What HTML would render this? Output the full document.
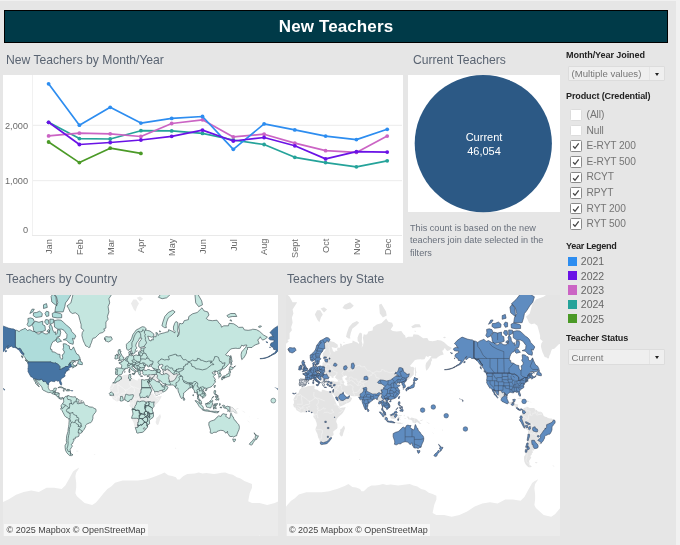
<!DOCTYPE html>
<html><head><meta charset="utf-8"><title>New Teachers</title>
<style>
html,body{margin:0;padding:0}
body{width:680px;height:545px;overflow:hidden;background:#f1f1f1;font-family:"Liberation Sans",sans-serif;position:relative}
#bg{position:absolute;left:0;top:1px;width:676px;height:544px;background:#e6e6e6}
.abs{position:absolute}
#hdr{position:absolute;left:4px;top:10px;width:662px;height:31px;background:#003a48;border:1px solid #000;box-sizing:content-box}
#hdr div{position:absolute;left:0;right:0;top:5.5px;text-align:center;color:#fff;font-weight:bold;font-size:17px;line-height:20px;letter-spacing:0.12px}
.ttl{position:absolute;color:#5a6472;font-size:12.15px;line-height:16px;white-space:nowrap}
.panel{position:absolute;background:#fff;overflow:hidden}
.ax{position:absolute;color:#6b6b6b;font-size:9.2px;line-height:10px;text-align:right;width:24px;left:4px}
.mon{position:absolute;top:238.5px;width:11px;height:24px;writing-mode:vertical-rl;transform:rotate(180deg);color:#6b6b6b;font-size:9.2px;line-height:11px;text-align:right;white-space:nowrap}
.sh{position:absolute;left:566px;color:#222;font-weight:bold;font-size:9.05px;line-height:12px;white-space:nowrap}
.dd{position:absolute;left:567.5px;width:97px;height:14.5px;background:#efefef;border:1px solid #dcdcdc;box-sizing:border-box;border-radius:1px}
.dd span{position:absolute;left:3px;top:1px;font-size:9.6px;line-height:12px;color:#777;white-space:nowrap}
.dd i{position:absolute;right:5px;top:5.5px;width:0;height:0;border-left:2.6px solid transparent;border-right:2.6px solid transparent;border-top:3.2px solid #222}
.dd b{position:absolute;right:14px;top:0;bottom:0;width:1px;background:#e4e4e4}
.cb{position:absolute;left:570.3px;width:12.2px;height:11.8px;background:#fff;border:0.6px solid #dcdcdc;box-sizing:border-box;border-radius:1.5px}
.cb.on{border-color:#8a8a8a}
.cb svg{position:absolute;left:-1px;top:-1px}
.cbl{position:absolute;left:586.6px;font-size:10.2px;line-height:14px;color:#757575;white-space:nowrap;letter-spacing:-0.1px}
.sw{position:absolute;left:567.8px;width:9.2px;height:9.2px}
.lgl{position:absolute;left:580.8px;font-size:10.5px;line-height:14px;color:#666;white-space:nowrap}
.note{position:absolute;left:410px;top:222px;width:145px;font-size:9.15px;line-height:12.3px;color:#69707c}
.attr{position:absolute;left:1px;bottom:0;height:12px;padding:0 2.2px;background:rgba(255,255,255,.62);font-size:9px;line-height:12.5px;color:#444;white-space:nowrap}
</style></head><body>
<div id="bg"></div>
<div id="hdr"><div>New Teachers</div></div>
<div class="ttl" style="left:6px;top:51.5px">New Teachers by Month/Year</div>
<div class="ttl" style="left:413px;top:51.5px">Current Teachers</div>
<div class="ttl" style="left:6px;top:271px">Teachers by Country</div>
<div class="ttl" style="left:287px;top:271px">Teachers by State</div>

<div class="panel" style="left:3px;top:74.5px;width:399.5px;height:188px"></div>
<svg class="abs" style="left:0;top:0" width="680" height="270" viewBox="0 0 680 270"><line x1="32" x2="402" y1="125.3" y2="125.3" stroke="#ececec" stroke-width="1"/><line x1="32" x2="402" y1="180.7" y2="180.7" stroke="#ececec" stroke-width="1"/><line x1="32.5" x2="32.5" y1="75" y2="235.5" stroke="#f1f1f1" stroke-width="1"/><line x1="32" x2="402" y1="235.5" y2="235.5" stroke="#e9e9e9" stroke-width="1"/><polyline points="48.6,142.0 79.4,162.6 110.2,148.2 140.9,153.4" fill="none" stroke="#4b9a27" stroke-width="1.7" stroke-linejoin="round" stroke-linecap="round"/><circle cx="48.6" cy="142.0" r="1.9" fill="#4b9a27"/><circle cx="79.4" cy="162.6" r="1.9" fill="#4b9a27"/><circle cx="110.2" cy="148.2" r="1.9" fill="#4b9a27"/><circle cx="140.9" cy="153.4" r="1.9" fill="#4b9a27"/><polyline points="48.6,122.3 79.4,138.6 110.2,139.0 140.9,130.7 171.7,130.9 202.5,133.4 233.3,140.0 264.1,144.5 294.8,157.3 325.6,162.6 356.4,166.8 387.2,160.8" fill="none" stroke="#25a39a" stroke-width="1.7" stroke-linejoin="round" stroke-linecap="round"/><circle cx="48.6" cy="122.3" r="1.9" fill="#25a39a"/><circle cx="79.4" cy="138.6" r="1.9" fill="#25a39a"/><circle cx="110.2" cy="139.0" r="1.9" fill="#25a39a"/><circle cx="140.9" cy="130.7" r="1.9" fill="#25a39a"/><circle cx="171.7" cy="130.9" r="1.9" fill="#25a39a"/><circle cx="202.5" cy="133.4" r="1.9" fill="#25a39a"/><circle cx="233.3" cy="140.0" r="1.9" fill="#25a39a"/><circle cx="264.1" cy="144.5" r="1.9" fill="#25a39a"/><circle cx="294.8" cy="157.3" r="1.9" fill="#25a39a"/><circle cx="325.6" cy="162.6" r="1.9" fill="#25a39a"/><circle cx="356.4" cy="166.8" r="1.9" fill="#25a39a"/><circle cx="387.2" cy="160.8" r="1.9" fill="#25a39a"/><polyline points="48.6,135.9 79.4,133.2 110.2,133.8 140.9,136.5 171.7,123.5 202.5,119.8 233.3,136.9 264.1,134.2 294.8,143.1 325.6,150.7 356.4,152.4 387.2,136.1" fill="none" stroke="#cb64c4" stroke-width="1.7" stroke-linejoin="round" stroke-linecap="round"/><circle cx="48.6" cy="135.9" r="1.9" fill="#cb64c4"/><circle cx="79.4" cy="133.2" r="1.9" fill="#cb64c4"/><circle cx="110.2" cy="133.8" r="1.9" fill="#cb64c4"/><circle cx="140.9" cy="136.5" r="1.9" fill="#cb64c4"/><circle cx="171.7" cy="123.5" r="1.9" fill="#cb64c4"/><circle cx="202.5" cy="119.8" r="1.9" fill="#cb64c4"/><circle cx="233.3" cy="136.9" r="1.9" fill="#cb64c4"/><circle cx="264.1" cy="134.2" r="1.9" fill="#cb64c4"/><circle cx="294.8" cy="143.1" r="1.9" fill="#cb64c4"/><circle cx="325.6" cy="150.7" r="1.9" fill="#cb64c4"/><circle cx="356.4" cy="152.4" r="1.9" fill="#cb64c4"/><circle cx="387.2" cy="136.1" r="1.9" fill="#cb64c4"/><polyline points="48.6,83.8 79.4,125.2 110.2,107.3 140.9,123.1 171.7,118.4 202.5,116.5 233.3,149.3 264.1,123.9 294.8,129.9 325.6,136.1 356.4,139.6 387.2,129.3" fill="none" stroke="#2d8df0" stroke-width="1.7" stroke-linejoin="round" stroke-linecap="round"/><circle cx="48.6" cy="83.8" r="1.9" fill="#2d8df0"/><circle cx="79.4" cy="125.2" r="1.9" fill="#2d8df0"/><circle cx="110.2" cy="107.3" r="1.9" fill="#2d8df0"/><circle cx="140.9" cy="123.1" r="1.9" fill="#2d8df0"/><circle cx="171.7" cy="118.4" r="1.9" fill="#2d8df0"/><circle cx="202.5" cy="116.5" r="1.9" fill="#2d8df0"/><circle cx="233.3" cy="149.3" r="1.9" fill="#2d8df0"/><circle cx="264.1" cy="123.9" r="1.9" fill="#2d8df0"/><circle cx="294.8" cy="129.9" r="1.9" fill="#2d8df0"/><circle cx="325.6" cy="136.1" r="1.9" fill="#2d8df0"/><circle cx="356.4" cy="139.6" r="1.9" fill="#2d8df0"/><circle cx="387.2" cy="129.3" r="1.9" fill="#2d8df0"/><polyline points="48.6,122.3 79.4,144.5 110.2,142.5 140.9,140.0 171.7,136.3 202.5,130.1 233.3,141.0 264.1,137.5 294.8,145.8 325.6,158.9 356.4,151.7 387.2,152.1" fill="none" stroke="#6a12e6" stroke-width="1.7" stroke-linejoin="round" stroke-linecap="round"/><circle cx="48.6" cy="122.3" r="1.9" fill="#6a12e6"/><circle cx="79.4" cy="144.5" r="1.9" fill="#6a12e6"/><circle cx="110.2" cy="142.5" r="1.9" fill="#6a12e6"/><circle cx="140.9" cy="140.0" r="1.9" fill="#6a12e6"/><circle cx="171.7" cy="136.3" r="1.9" fill="#6a12e6"/><circle cx="202.5" cy="130.1" r="1.9" fill="#6a12e6"/><circle cx="233.3" cy="141.0" r="1.9" fill="#6a12e6"/><circle cx="264.1" cy="137.5" r="1.9" fill="#6a12e6"/><circle cx="294.8" cy="145.8" r="1.9" fill="#6a12e6"/><circle cx="325.6" cy="158.9" r="1.9" fill="#6a12e6"/><circle cx="356.4" cy="151.7" r="1.9" fill="#6a12e6"/><circle cx="387.2" cy="152.1" r="1.9" fill="#6a12e6"/></svg>
<div class="ax" style="top:120.5px">2,000</div>
<div class="ax" style="top:176px">1,000</div>
<div class="ax" style="top:224.5px">0</div>
<div class="mon" style="left:43.9px">Jan</div><div class="mon" style="left:74.7px">Feb</div><div class="mon" style="left:105.5px">Mar</div><div class="mon" style="left:136.2px">Apr</div><div class="mon" style="left:167.0px">May</div><div class="mon" style="left:197.8px">Jun</div><div class="mon" style="left:228.6px">Jul</div><div class="mon" style="left:259.4px">Aug</div><div class="mon" style="left:290.1px">Sept</div><div class="mon" style="left:320.9px">Oct</div><div class="mon" style="left:351.7px">Nov</div><div class="mon" style="left:382.5px">Dec</div>

<div class="panel" style="left:407.5px;top:75px;width:152.3px;height:137.3px"></div>
<svg class="abs" style="left:400px;top:70px" width="170" height="150" viewBox="400 70 170 150"><circle cx="483.3" cy="143.6" r="68.6" fill="#2c5985"/>
<text x="484" y="140.8" text-anchor="middle" font-family="Liberation Sans, sans-serif" font-size="11" fill="#fff">Current</text>
<text x="484" y="155" text-anchor="middle" font-family="Liberation Sans, sans-serif" font-size="11" fill="#fff">46,054</text></svg>
<div class="note">This count is based on the new teachers join date selected in the filters</div>

<div class="sh" style="top:48.7px;letter-spacing:-0.09px">Month/Year Joined</div>
<div class="dd" style="top:66px;height:15px"><span>(Multiple values)</span><b></b><i></i></div>
<div class="sh" style="top:90px;letter-spacing:-0.13px">Product (Credential)</div>
<div class="cb" style="top:109.1px"></div><div class="cbl" style="top:107.9px">(All)</div><div class="cb" style="top:124.7px"></div><div class="cbl" style="top:123.5px">Null</div><div class="cb on" style="top:140.3px"><svg width="12" height="12" viewBox="0 0 12 12"><path d="M3.1 6.3 L5 8.3 L8.7 3.4" fill="none" stroke="#444" stroke-width="1.25"/></svg></div><div class="cbl" style="top:139.1px">E-RYT 200</div><div class="cb on" style="top:155.9px"><svg width="12" height="12" viewBox="0 0 12 12"><path d="M3.1 6.3 L5 8.3 L8.7 3.4" fill="none" stroke="#444" stroke-width="1.25"/></svg></div><div class="cbl" style="top:154.7px">E-RYT 500</div><div class="cb on" style="top:171.5px"><svg width="12" height="12" viewBox="0 0 12 12"><path d="M3.1 6.3 L5 8.3 L8.7 3.4" fill="none" stroke="#444" stroke-width="1.25"/></svg></div><div class="cbl" style="top:170.3px">RCYT</div><div class="cb on" style="top:187.1px"><svg width="12" height="12" viewBox="0 0 12 12"><path d="M3.1 6.3 L5 8.3 L8.7 3.4" fill="none" stroke="#444" stroke-width="1.25"/></svg></div><div class="cbl" style="top:185.9px">RPYT</div><div class="cb on" style="top:202.7px"><svg width="12" height="12" viewBox="0 0 12 12"><path d="M3.1 6.3 L5 8.3 L8.7 3.4" fill="none" stroke="#444" stroke-width="1.25"/></svg></div><div class="cbl" style="top:201.5px">RYT 200</div><div class="cb on" style="top:218.3px"><svg width="12" height="12" viewBox="0 0 12 12"><path d="M3.1 6.3 L5 8.3 L8.7 3.4" fill="none" stroke="#444" stroke-width="1.25"/></svg></div><div class="cbl" style="top:217.1px">RYT 500</div>
<div class="sh" style="top:240px;letter-spacing:-0.3px">Year Legend</div>
<div class="sw" style="top:256.8px;background:#2d8df0"></div><div class="lgl" style="top:254.4px">2021</div><div class="sw" style="top:271.1px;background:#6a12e6"></div><div class="lgl" style="top:268.7px">2022</div><div class="sw" style="top:285.4px;background:#cb64c4"></div><div class="lgl" style="top:283.0px">2023</div><div class="sw" style="top:299.7px;background:#25a39a"></div><div class="lgl" style="top:297.3px">2024</div><div class="sw" style="top:314.0px;background:#4b9a27"></div><div class="lgl" style="top:311.6px">2025</div>
<div class="sh" style="top:331.7px;letter-spacing:-0.15px">Teacher Status</div>
<div class="dd" style="top:349px;height:16px"><span style="top:1.8px">Current</span><b></b><i style="top:6.2px"></i></div>

<div class="panel" style="left:3.4px;top:294.5px;width:274.9px;height:241.8px;background:#fff"><svg style="position:absolute;left:0;top:0" width="274.9" height="241.8" viewBox="3.4 294.5 274.9 241.8"><path d="M-14.0,502.6L-6.4,504.5L1.2,502.6L8.8,499.1L16.5,494.3L24.1,491.4L31.7,490.0L39.3,491.4L46.9,487.3L54.5,487.3L62.1,488.6L65.9,484.7L69.7,477.9L72.0,473.8L73.5,471.0L75.8,469.2L79.6,467.1L78.5,469.2L76.6,471.9L75.8,475.8L76.6,482.3L76.6,487.3L75.8,492.8L77.3,495.8L85.0,502.6L92.6,504.5L96.4,501.9L100.2,497.4L104.0,492.8L107.8,488.6L111.6,486.0L115.4,482.3L123.0,480.1L130.6,480.1L138.2,480.1L145.8,479.0L149.6,477.9L153.4,476.8L157.2,475.2L161.1,473.8L164.9,471.9L168.7,474.8L172.5,475.4L176.3,476.8L177.8,479.0L180.1,479.0L182.4,476.8L183.9,475.4L187.7,473.4L191.5,473.2L195.3,472.9L199.1,471.9L202.9,472.9L206.7,472.5L210.5,472.9L214.3,473.4L218.1,472.9L221.9,472.3L225.7,471.9L229.5,473.4L233.3,474.2L237.2,476.8L241.0,477.9L244.8,480.5L248.6,481.9L252.4,483.5L252.4,487.3L250.1,492.8L248.6,500.8L252.4,502.6L260.0,502.6L260.0,611.1L-14.0,611.1ZM260.0,502.6L267.6,504.5L275.2,502.6L282.8,499.1L290.4,494.3L298.0,491.4L305.6,490.0L313.2,491.4L320.9,487.3L328.5,487.3L336.1,488.6L339.9,484.7L343.7,477.9L346.0,473.8L347.5,471.0L349.8,469.2L353.6,467.1L352.4,469.2L350.5,471.9L349.8,475.8L350.5,482.3L350.5,487.3L349.8,492.8L351.3,495.8L358.9,502.6L366.5,504.5L370.3,501.9L374.1,497.4L377.9,492.8L381.7,488.6L385.5,486.0L389.4,482.3L397.0,480.1L404.6,480.1L412.2,480.1L419.8,479.0L423.6,477.9L427.4,476.8L431.2,475.2L435.0,473.8L438.8,471.9L442.6,474.8L446.4,475.4L450.2,476.8L451.8,479.0L454.0,479.0L456.3,476.8L457.8,475.4L461.6,473.4L465.4,473.2L469.3,472.9L473.1,471.9L476.9,472.9L480.7,472.5L484.5,472.9L488.3,473.4L492.1,472.9L495.9,472.3L499.7,471.9L503.5,473.4L507.3,474.2L511.1,476.8L514.9,477.9L518.7,480.5L522.5,481.9L526.3,483.5L526.3,487.3L524.0,492.8L522.5,500.8L526.3,502.6L533.9,502.6L533.9,611.1L260.0,611.1Z" fill="#ebebeb"/><path d="M33.9,378.2L34.5,379.7L35.3,381.1L36.1,382.2L35.5,382.4L36.6,383.3L37.6,384.7L39.1,386.0L39.4,386.5L39.7,386.0L38.9,385.2L38.1,383.5L37.2,382.2L36.4,380.6L35.7,379.6L35.6,378.9L37.0,379.4L37.5,380.9L38.7,382.3L39.8,383.9L40.8,384.7L42.0,386.2L42.7,387.6L42.7,388.6L43.6,389.7L45.4,390.5L46.9,391.3L48.8,392.1L50.7,392.0L51.8,392.5L52.8,393.2L54.1,393.7L55.7,394.3L56.4,394.4L56.6,395.0L57.6,395.8L57.8,396.4L58.3,396.9L59.3,397.7L60.0,398.2L61.0,398.7L61.9,398.8L62.1,398.1L62.7,397.6L63.5,398.1L63.7,398.8L64.1,397.8L63.3,397.1L62.3,397.1L61.4,397.7L60.4,397.4L59.6,396.5L59.3,395.7L59.5,394.4L59.7,392.9L58.7,392.2L57.6,392.1L56.0,392.2L55.4,392.1L55.9,390.9L56.2,390.1L56.6,388.9L56.9,387.8L56.0,387.6L54.3,387.9L54.0,389.1L53.4,390.1L52.2,390.2L50.9,390.3L50.1,389.8L49.7,389.3L49.0,388.0L48.6,386.8L48.7,385.2L49.0,383.9L47.6,383.6L47.3,382.6L46.7,381.9L46.1,381.0L45.1,380.6L44.5,381.3L43.5,380.8L43.2,379.9L42.0,378.9L40.7,378.9L40.7,379.3L38.5,379.3L35.6,378.2ZM67.4,305.4L71.3,302.4L73.5,293.6L77.3,288.4L85.0,285.6L92.6,280.0L100.2,279.3L106.3,285.6L109.3,291.1L113.9,291.1L109.3,298.2L110.1,302.4L108.5,306.2L109.3,311.4L107.8,316.0L108.5,318.8L106.3,321.5L106.3,324.1L106.3,327.6L104.0,328.7L105.5,329.8L103.2,332.0L100.2,332.8L97.9,335.0L95.6,337.3L93.3,337.8L92.6,339.6L91.8,342.2L90.7,344.6L90.3,346.7L89.1,347.1L88.0,346.1L86.1,345.4L85.0,343.0L83.8,340.5L83.0,337.8L82.3,335.0L82.7,332.0L84.2,329.8L81.5,327.6L81.5,324.1L80.4,320.2L78.9,314.5L75.8,312.3L72.8,313.0L70.5,311.4L69.0,308.0ZM104.4,337.8L106.3,336.1L109.3,336.5L111.6,336.3L112.7,338.7L111.6,340.0L108.9,341.5L107.0,340.8L105.7,340.5L106.3,339.1L104.7,338.9L105.9,338.2ZM118.7,360.2L120.3,360.0L122.2,359.5L124.0,359.0L124.3,357.0L123.2,356.7L123.0,355.8L122.1,354.6L121.5,353.0L120.7,352.7L121.5,350.5L120.0,350.5L120.7,349.1L119.2,349.1L118.4,350.6L118.8,352.7L119.2,354.1L120.3,354.2L120.7,356.0L119.6,356.3L119.8,357.5L119.0,358.2L120.7,358.6L119.6,359.1ZM115.4,358.4L116.9,358.4L118.3,357.7L118.4,356.0L118.8,354.7L118.1,353.8L116.8,353.8L116.5,355.0L115.4,355.1L115.8,356.4L115.2,357.7ZM116.2,374.1L115.8,372.4L116.3,370.1L115.9,368.1L116.9,367.4L119.2,367.6L121.5,367.7L122.0,366.5L122.1,364.9L121.3,363.6L119.4,362.7L119.5,362.0L121.8,361.9L121.6,360.7L123.2,360.8L124.2,359.7L124.9,359.0L125.8,358.3L126.6,356.7L127.9,356.0L129.5,355.6L129.5,353.4L129.2,351.4L131.0,350.4L131.0,352.7L130.5,354.1L131.4,355.4L133.3,354.9L133.9,355.5L135.6,354.7L137.1,354.5L138.1,354.9L139.0,354.1L139.0,351.4L140.1,350.4L140.9,351.4L141.6,349.5L140.9,348.2L142.8,347.6L144.3,347.6L146.0,347.1L144.7,346.1L142.8,346.4L140.5,347.1L139.2,346.1L139.2,343.8L139.4,341.9L141.6,339.1L142.3,337.8L139.9,337.4L139.2,339.6L137.1,342.2L136.2,344.6L136.3,346.2L137.5,347.3L135.9,348.9L135.6,351.4L135.2,352.5L133.9,353.4L132.9,353.5L132.5,352.0L131.6,349.2L131.1,348.0L129.8,349.2L128.3,349.9L127.2,348.6L126.8,346.2L126.8,343.8L128.3,342.2L130.6,340.5L132.1,337.8L133.3,334.0L134.8,332.0L136.7,329.4L139.0,328.3L142.6,326.2L144.7,326.5L146.6,328.1L145.8,329.4L148.1,330.0L150.4,330.5L154.2,333.4L154.2,335.9L151.9,336.7L149.6,335.9L148.1,335.6L149.3,338.7L149.5,339.8L151.5,340.5L151.9,339.1L153.8,339.4L153.4,337.3L155.0,336.1L156.5,336.3L156.7,334.0L156.3,332.0L158.0,332.6L158.4,335.0L159.9,333.6L163.3,332.6L164.5,332.4L166.4,331.7L168.7,331.3L169.0,329.2L171.7,330.3L174.0,331.3L175.0,332.6L175.5,331.1L174.0,329.6L173.8,326.5L175.1,322.8L176.3,321.0L178.2,322.0L178.4,326.5L178.0,329.8L178.9,333.0L177.8,336.3L179.3,334.0L179.9,330.9L179.2,326.5L180.1,322.8L182.0,323.3L183.5,322.8L184.6,320.2L188.8,319.1L189.2,316.0L193.0,313.3L197.6,312.0L202.4,307.3L204.4,310.4L208.2,311.4L209.4,314.5L206.7,318.0L209.0,319.7L212.8,320.2L217.4,319.7L219.6,322.8L221.2,324.1L221.9,326.7L224.2,325.3L228.8,325.3L229.5,322.8L234.1,323.3L237.2,325.3L239.1,326.9L243.2,326.7L244.8,329.4L248.6,329.8L252.4,329.2L253.1,328.7L256.9,329.2L260.0,330.9L263.8,334.4L267.8,336.7L265.3,338.7L263.0,339.6L261.5,337.8L260.7,336.3L259.2,338.7L258.1,339.3L259.6,343.0L256.2,344.2L253.9,345.4L252.4,347.0L249.3,347.0L247.4,347.1L248.2,348.5L247.0,350.2L246.9,352.5L246.1,354.1L244.8,356.4L243.6,357.9L242.2,359.1L241.7,356.7L241.5,354.1L242.1,351.4L244.0,349.2L245.9,347.0L247.4,344.6L244.8,344.6L244.4,345.7L242.1,344.6L240.6,347.7L237.9,348.0L236.4,347.7L233.3,348.0L231.1,348.5L228.4,351.4L226.0,354.3L227.6,355.4L229.2,355.1L230.5,356.7L229.9,358.5L229.8,360.3L229.9,362.7L228.4,364.3L226.5,366.5L224.2,368.3L222.7,368.5L222.3,368.8L221.7,370.1L220.0,371.3L220.7,372.6L221.5,374.1L221.4,375.5L220.8,376.1L219.3,376.5L219.2,375.0L219.5,374.1L218.1,373.3L218.3,371.6L217.6,371.1L215.8,370.6L215.2,372.3L215.7,370.2L213.9,371.3L212.6,372.1L213.5,373.6L214.9,373.3L216.3,373.8L214.7,374.9L213.8,375.9L214.7,377.3L215.7,378.9L215.7,379.7L214.7,380.2L215.8,380.6L215.5,382.0L214.3,383.3L213.6,384.5L212.4,385.7L211.3,386.5L209.9,387.0L208.6,387.4L207.1,387.9L206.9,388.6L206.5,387.6L205.3,387.6L204.2,388.2L203.5,389.7L204.0,390.9L205.4,392.1L206.2,394.0L206.1,395.4L204.8,396.4L204.2,397.1L202.9,397.8L202.9,396.8L201.8,396.3L201.0,395.2L199.9,394.7L199.5,394.0L199.1,394.8L198.7,396.1L199.3,397.9L199.9,399.1L201.0,399.8L201.8,401.0L201.8,402.5L202.3,403.3L201.7,403.3L200.2,402.3L199.5,401.4L199.3,399.8L198.3,398.4L197.8,398.3L198.0,396.8L198.1,395.2L197.4,393.2L197.3,391.7L196.4,391.7L195.6,392.2L194.8,392.1L194.9,390.5L194.2,389.0L193.2,388.2L192.9,387.0L191.9,386.8L190.7,387.4L189.2,387.6L189.1,388.5L187.7,389.3L186.2,390.9L185.0,391.8L184.0,392.5L184.0,394.3L183.7,395.6L183.7,396.5L183.1,397.3L182.5,397.7L182.0,398.2L181.1,396.9L180.3,395.2L179.7,393.2L178.9,391.7L178.4,389.7L178.4,388.0L178.0,387.4L177.0,388.2L175.7,387.1L176.5,386.5L175.1,386.0L174.2,385.0L173.6,384.4L171.7,384.5L169.8,384.6L167.9,384.4L166.5,383.9L166.0,383.0L164.5,383.4L163.0,382.6L161.8,381.5L161.1,380.3L160.1,380.2L159.5,380.6L159.9,381.8L161.1,383.3L161.3,384.3L162.2,383.8L162.3,384.9L162.4,385.4L164.1,385.4L165.7,383.8L166.0,385.2L167.5,385.9L168.5,386.8L167.5,388.5L166.8,389.7L164.9,391.0L162.6,391.9L160.3,393.4L157.4,394.6L156.1,394.7L155.6,393.0L155.4,391.7L154.2,389.8L152.8,387.8L151.9,385.6L150.8,383.9L149.6,382.2L149.6,380.9L149.0,382.4L148.3,381.7L147.8,380.4L147.6,379.4L149.0,379.3L149.6,378.0L150.2,376.4L150.4,375.0L150.5,374.3L149.3,374.3L148.1,374.9L146.6,374.2L145.1,374.7L143.9,374.1L143.0,372.8L143.4,371.6L142.9,371.1L142.8,370.4L142.0,370.2L141.3,370.6L140.5,370.8L140.3,371.6L140.9,372.6L141.3,373.1L140.5,373.6L140.7,374.5L140.1,374.5L139.5,374.2L139.1,373.3L139.0,372.6L138.6,371.8L137.8,370.8L137.8,369.4L137.1,368.6L135.9,367.9L134.8,367.0L134.0,365.8L133.4,366.0L133.3,365.3L132.4,365.6L132.4,366.7L133.3,367.6L134.4,369.1L135.2,369.3L137.1,370.9L135.9,370.7L135.6,371.6L136.0,372.1L135.2,373.1L134.9,373.1L135.2,372.1L134.8,371.0L133.9,370.3L132.5,369.6L131.4,368.6L130.8,367.6L130.2,366.7L129.5,366.7L128.7,367.2L127.6,368.0L126.4,367.7L125.4,368.1L125.4,369.2L124.5,369.8L123.4,370.6L122.8,371.6L123.0,372.4L122.4,373.4L121.5,374.2L119.6,374.3L118.8,375.0L118.2,374.2L117.3,373.9ZM64.1,397.8L65.5,396.1L66.1,395.9L67.4,395.7L68.4,394.9L69.7,395.5L71.0,396.1L72.8,396.3L74.1,396.4L75.8,396.2L76.0,396.9L76.7,397.9L78.1,398.3L79.2,399.6L81.1,399.9L82.0,400.1L83.4,400.8L84.0,401.4L84.6,403.0L85.0,404.0L86.1,404.8L86.5,405.0L88.0,405.2L89.3,406.3L91.4,406.6L92.9,406.7L94.5,407.8L96.1,408.4L96.5,409.9L96.4,411.3L95.2,412.4L94.5,413.6L93.7,414.4L93.3,415.9L93.3,417.9L92.8,419.5L92.0,421.2L91.0,422.3L89.9,422.4L88.4,423.1L87.2,423.6L86.1,424.7L86.0,426.2L85.3,427.5L84.3,429.2L83.3,430.3L82.3,431.9L81.2,432.8L80.2,432.8L78.6,431.9L79.4,433.3L79.6,434.3L79.1,435.9L77.3,436.6L75.8,436.7L75.6,438.5L73.5,438.7L74.5,440.2L73.4,441.2L73.2,442.8L71.6,443.9L72.8,445.6L71.6,447.3L70.5,449.1L70.9,451.3L70.9,452.8L73.4,454.3L72.0,455.1L70.1,455.1L68.6,453.8L67.1,452.1L65.9,449.7L65.5,446.7L65.5,444.8L67.1,442.3L66.7,440.2L66.9,437.7L67.1,435.2L67.7,433.3L68.4,431.0L68.6,428.4L69.0,426.2L69.3,424.1L69.4,422.4L69.6,420.3L69.4,418.6L68.2,417.5L66.3,416.6L65.0,415.2L64.3,413.6L63.4,412.0L62.5,410.1L61.4,409.0L61.1,407.8L61.9,407.0L62.1,406.3L61.4,406.1L61.5,405.2L62.1,404.0L62.9,403.3L63.3,402.5L64.2,401.5L64.0,400.2L64.0,399.1L63.7,398.8ZM58.3,387.3L59.8,386.4L61.7,386.3L64.0,387.5L65.5,388.3L66.5,388.7L63.9,388.9L64.3,388.4L63.3,387.6L61.0,387.1L59.5,387.1ZM66.4,390.2L67.4,388.9L69.7,389.0L70.9,390.0L69.3,390.3L68.2,390.4ZM63.4,390.2L64.9,390.3L64.6,390.6L63.5,390.5ZM209.4,421.6L209.9,421.4L211.7,420.4L213.6,419.9L215.5,419.1L216.1,417.9L217.0,417.5L217.7,416.3L219.3,415.2L220.4,415.8L221.5,415.9L222.3,414.0L223.8,413.2L225.7,413.8L227.1,413.8L226.5,414.9L226.1,415.9L227.6,416.7L229.2,417.9L230.1,417.9L230.7,415.9L230.8,414.2L231.4,412.7L232.2,414.2L232.4,415.4L233.6,416.3L234.1,417.9L234.5,419.1L236.0,420.2L236.8,421.6L237.8,422.8L239.1,424.1L239.7,425.8L239.8,427.0L239.4,429.2L238.3,431.5L237.4,433.8L237.1,435.2L235.2,435.7L234.3,436.7L233.0,435.9L231.4,436.1L229.9,435.7L229.2,434.3L228.2,433.3L228.0,431.5L227.9,430.8L226.5,432.6L226.0,432.6L225.0,431.0L223.5,430.1L221.2,429.8L218.9,430.4L217.4,431.0L217.0,431.8L214.3,431.8L212.8,432.9L211.3,432.7L210.5,432.2L210.9,430.1L210.5,428.4L209.8,426.2L209.2,424.5ZM233.1,438.4L234.5,438.8L235.9,438.6L235.8,439.9L234.9,441.2L234.1,441.2L233.6,440.0ZM254.4,432.3L255.6,433.3L256.6,434.5L257.2,435.4L258.8,435.3L258.3,436.9L257.7,437.2L257.2,438.7L256.4,439.3L256.0,439.0L256.3,437.7L255.3,437.0L255.9,435.7L255.9,434.7L255.0,433.3ZM254.4,438.2L255.6,439.4L254.7,440.9L253.4,442.1L252.9,443.8L251.6,444.6L250.5,444.1L249.7,443.7L251.1,441.8L252.8,440.6L253.5,439.4ZM222.7,405.0L223.8,404.7L225.0,405.0L225.7,406.9L227.6,405.7L230.3,406.4L233.0,407.3L234.1,408.6L235.5,409.5L235.6,410.5L237.5,412.3L235.6,412.1L234.1,410.9L233.0,410.3L231.8,411.3L230.3,411.4L228.8,410.5L228.0,410.8L228.6,409.6L228.0,408.6L226.1,407.8L224.2,407.4L224.1,406.5ZM205.9,403.3L206.3,402.9L207.7,403.3L207.9,402.3L209.0,402.0L210.1,400.8L211.3,399.8L212.0,399.1L213.2,400.2L213.6,400.6L212.8,401.1L212.6,402.1L213.4,403.6L212.6,403.8L212.4,405.0L211.7,405.9L211.3,407.3L210.3,407.4L209.0,406.9L208.0,406.9L206.9,406.5L206.7,405.4L206.1,404.4ZM195.5,400.1L197.2,400.4L198.2,401.6L199.5,402.7L200.6,403.6L201.8,404.4L202.5,405.2L203.7,406.7L203.5,408.8L202.5,408.8L200.9,407.4L199.7,406.1L198.9,404.8L198.1,403.3L196.8,401.9ZM203.1,409.6L204.2,409.0L205.6,409.5L207.3,409.3L208.8,409.7L210.1,410.3L210.1,411.0L207.9,410.7L205.6,410.4L204.0,410.0ZM210.5,410.7L212.0,410.7L213.6,410.8L215.1,410.8L216.6,410.7L217.7,411.4L219.6,410.8L218.1,412.2L217.0,412.3L214.3,412.0L213.6,411.7L212.0,411.3L210.9,411.1ZM213.9,407.1L213.4,406.5L214.2,404.4L214.5,403.7L215.1,403.4L218.0,403.1L218.3,403.4L217.0,404.2L214.9,404.1L214.5,405.1L215.5,405.1L216.8,405.0L216.9,405.3L215.6,405.8L216.5,407.4L216.6,408.4L216.0,408.2L215.5,407.6L215.1,406.5L214.5,406.6L214.6,408.6L213.9,408.6ZM220.0,402.9L220.8,403.3L220.4,404.4L220.0,405.0L219.9,403.8ZM220.4,406.7L222.5,406.8L221.9,407.3L220.4,407.1ZM214.7,390.1L216.0,390.1L216.1,391.7L215.5,392.5L215.6,393.5L217.4,394.4L217.4,394.8L216.2,394.0L215.1,393.9L214.7,393.2L214.3,392.1ZM215.8,399.1L217.0,397.8L218.5,396.9L219.3,398.3L219.0,399.6L218.5,399.8L218.4,399.1L217.4,399.1L217.4,399.7ZM217.6,394.8L218.5,395.0L218.4,396.6L217.7,396.4ZM215.8,395.4L216.8,395.7L216.8,397.3L216.2,397.1L215.8,396.4ZM213.9,395.7L213.8,396.5L212.3,398.0L212.2,397.7L213.4,396.4ZM222.6,376.9L223.8,375.5L226.1,375.3L227.1,373.8L228.4,373.6L229.4,372.1L229.5,370.6L230.5,369.7L230.7,370.6L231.1,371.6L230.3,373.1L230.3,374.5L229.9,375.7L229.4,375.9L228.6,376.2L227.3,376.3L227.1,376.6L226.3,377.3L225.7,376.6L224.6,376.6L223.5,377.0ZM229.5,369.6L229.8,367.9L230.8,365.5L231.8,366.7L233.6,367.0L233.7,367.8L232.1,369.1L230.7,368.6L230.3,369.3ZM221.8,377.5L222.7,377.0L223.5,377.8L222.9,379.2L222.2,379.4L222.1,378.2ZM223.8,376.9L225.4,376.6L225.4,377.2L224.2,378.0ZM231.1,355.0L231.8,356.7L232.1,359.1L232.6,361.2L231.8,361.5L232.2,364.0L231.4,364.9L231.1,363.2L231.1,360.3L230.8,357.9ZM215.5,384.5L215.8,384.9L215.3,386.6L214.9,387.3L214.4,386.4L214.9,385.2ZM205.7,389.4L207.1,388.8L207.5,389.3L206.7,390.2L205.7,390.1ZM183.7,397.0L184.5,397.3L185.2,398.7L184.9,399.7L184.0,399.8L183.7,398.7ZM162.3,325.3L163.3,321.5L165.2,316.0L168.7,312.0L173.2,309.7L175.5,311.4L172.5,314.5L168.7,317.4L167.1,321.5L166.4,325.3L166.8,327.1L164.9,327.1ZM196.1,302.4L199.1,306.2L202.9,304.3L202.1,300.3L197.6,292.6L195.3,293.6ZM227.3,315.1L228.8,316.9L232.6,316.0L237.2,316.0L235.6,313.0L231.1,313.0ZM230.3,319.9L232.2,320.7L231.1,319.1ZM258.8,326.5L260.7,326.9L261.9,325.7L260.0,325.3ZM158.8,296.8L162.6,298.2L167.1,297.3L170.2,294.5L166.4,291.1L161.1,293.6ZM159.9,330.3L161.1,330.9L160.7,331.5L159.9,331.3ZM132.5,373.1L134.9,372.9L134.6,374.3L132.5,373.5ZM129.2,370.1L130.4,370.1L130.3,371.9L129.5,372.1ZM129.5,368.5L130.2,368.2L130.2,369.6L129.7,369.5ZM140.9,375.4L143.0,375.7L142.9,375.9L140.9,375.7ZM147.6,375.9L149.3,375.3L148.9,376.0L147.7,376.3ZM124.8,371.5L125.6,371.2L125.4,371.8ZM131.4,353.1L132.5,352.6L132.5,354.1L131.5,353.9ZM136.9,350.9L137.5,350.1L137.3,351.1ZM234.1,366.5L236.0,365.4L235.6,365.8L234.1,366.8ZM193.5,394.0L193.8,394.2L193.6,395.5L193.4,395.4ZM219.0,377.4L219.6,377.3L219.3,377.6Z" fill="#c4e6df" stroke="#3c4d52" stroke-width="0.65" stroke-linejoin="round"/><path d="M147.8,380.4L148.5,382.2L149.3,383.9L150.0,385.6L151.2,387.2L151.4,388.5L152.3,390.5L153.1,392.5L154.6,394.0L155.9,394.8L156.0,395.6L156.9,396.4L158.8,395.8L160.3,395.7L162.0,395.3L161.8,396.4L160.9,398.3L159.5,400.6L158.0,402.5L156.5,403.6L155.0,405.2L153.8,406.5L153.1,408.0L152.6,409.4L153.1,410.9L153.8,412.6L153.9,415.6L153.4,417.0L151.5,418.2L149.6,419.9L149.9,421.6L150.0,423.2L148.1,424.5L147.9,424.9L148.0,426.6L146.6,428.3L145.1,430.1L143.5,431.5L142.5,431.9L139.7,432.2L138.2,432.7L137.0,432.1L136.9,430.6L135.9,427.9L134.8,425.8L134.3,423.6L134.0,422.0L132.9,419.9L132.0,417.9L132.4,415.9L133.4,413.6L133.1,411.3L132.3,409.0L132.0,407.8L130.6,406.3L129.8,404.9L130.3,403.6L130.4,402.1L129.8,401.0L128.3,401.1L127.6,401.1L126.4,399.7L124.9,399.6L123.8,399.9L121.9,400.6L120.7,400.5L119.2,400.5L117.3,401.0L116.2,400.4L114.6,399.3L113.5,398.7L112.9,397.9L112.7,396.9L111.6,396.0L110.3,394.9L110.3,394.0L109.7,393.1L110.4,392.1L110.7,390.5L110.6,389.3L110.1,388.0L110.8,386.0L111.7,384.3L113.1,382.4L114.2,381.8L115.4,380.9L115.6,379.6L116.5,377.5L117.7,376.9L118.4,375.2L119.0,375.2L120.7,375.7L121.9,375.7L123.0,375.1L124.1,374.5L125.3,374.2L126.8,374.2L128.7,374.1L130.5,373.8L131.4,374.1L131.0,375.2L131.4,376.4L130.8,376.9L131.5,377.6L133.0,377.9L134.6,378.4L135.0,379.1L136.7,379.8L138.2,380.0L138.2,378.7L139.4,377.9L140.7,378.3L142.0,378.9L143.9,379.4L145.1,379.7L145.8,379.3L146.6,379.1L147.6,379.4ZM160.5,413.6L161.4,416.3L160.7,418.3L159.9,420.8L158.9,424.0L157.5,424.5L156.3,422.8L156.0,421.3L156.7,419.8L156.6,417.5L158.2,416.5L159.5,414.8ZM131.4,303.1L134.0,308.7L135.9,311.0L137.5,306.2L139.4,303.1L136.7,299.0L133.7,299.0ZM137.1,297.3L140.5,301.1L143.5,298.2L140.5,295.9ZM247.8,420.0L250.1,421.8L249.7,421.9L247.7,420.3ZM241.7,409.7L244.8,411.3L245.9,412.3L244.4,411.7ZM249.8,415.9L250.3,416.3L250.3,416.7L249.9,416.4ZM257.9,417.8L258.9,417.9L258.8,418.5L257.9,418.4ZM175.4,447.3L176.7,447.4L176.3,448.1L175.5,448.0ZM94.1,453.4L95.6,453.8L95.6,454.5L94.1,453.8ZM76.6,450.2L78.9,450.2L78.5,451.1L76.6,450.9ZM163.6,394.7L164.5,394.7L164.1,395.0ZM165.1,420.7L165.5,420.8L165.2,421.1ZM166.7,419.9L167.0,420.1L166.8,420.3ZM152.8,408.8L153.1,409.0L153.0,409.3ZM236.0,408.6L238.7,407.6L238.9,408.2L237.2,409.1L236.0,409.0Z" fill="#ebebeb"/><path d="M169.3,380.6L170.0,379.6L169.3,379.1L169.0,377.1L169.6,375.4L170.9,375.6L172.1,374.7L173.6,373.7L174.7,374.1L175.9,373.5L177.2,372.7L177.5,374.2L180.0,373.8L178.9,374.2L177.4,375.0L177.0,376.4L176.3,377.5L175.7,378.8L173.6,380.4L173.5,380.6L170.6,381.0ZM164.0,373.8L163.7,371.8L163.2,371.1L163.7,370.1L163.0,369.3L164.1,368.8L165.2,369.8L166.4,369.8L167.5,368.4L168.7,368.9L168.7,369.7L170.1,370.0L170.6,371.1L172.0,372.2L173.6,373.7L172.1,374.7L170.9,375.6L169.6,375.4L168.7,374.1L166.4,372.9L164.7,373.7ZM155.2,373.9L157.1,373.9L158.0,375.2L157.5,376.9L158.0,377.8L159.3,379.1L159.9,380.4L159.5,380.4L159.3,380.4L158.4,381.2L157.0,381.1L155.0,379.5L153.7,378.8L152.8,378.5L152.5,377.4L154.4,376.2ZM150.4,375.2L150.9,374.2L151.9,374.2L155.2,373.9L154.4,376.2L152.5,377.4L151.0,378.4L150.2,378.0L150.3,376.3ZM155.6,391.7L156.0,391.0L156.9,391.0L158.8,391.3L159.9,390.3L162.6,389.7L163.4,391.5L162.6,391.9L160.3,393.4L157.4,394.6L156.1,394.7L155.6,393.0ZM79.5,399.8L81.1,399.9L82.0,400.1L83.4,400.8L83.7,401.2L83.0,402.6L81.5,402.6L80.0,403.0L78.9,401.4L79.2,400.6ZM230.3,406.4L233.0,407.3L234.1,408.6L235.5,409.5L235.6,410.5L237.5,412.3L235.6,412.1L234.1,410.9L233.0,410.3L231.8,411.3L230.3,411.4Z" fill="#ebebeb" stroke="#ebebeb" stroke-width="0.7"/><path d="M116.4,382.4L116.4,383.9L113.9,383.9L113.9,386.0L113.1,386.4L113.1,387.8L110.1,387.8M116.4,382.4L119.3,384.7L123.9,388.0L125.5,389.7L126.2,389.6L126.2,391.7L125.7,392.5L123.2,392.9L122.6,392.9L121.5,393.5L120.7,393.9L119.7,394.3L118.8,395.4L118.8,396.4L116.9,396.6L116.7,396.0L115.2,395.0L114.2,394.9M119.3,384.7L118.1,384.7L118.8,391.7L119.0,392.5L113.9,392.5L113.7,393.1M125.5,389.7L127.6,389.3L132.1,386.0L130.6,385.2L130.2,383.5L130.6,380.2M132.1,386.0L133.8,386.7L134.4,386.4L141.3,389.3M132.1,386.0L134.8,388.0L134.8,391.3L133.3,393.2L133.3,393.9L133.7,394.2M126.0,394.0L125.7,395.4L124.7,394.9L123.7,396.0L122.8,395.9M123.7,396.0L124.3,397.5L124.2,399.7M125.1,397.5L125.1,399.5M120.9,396.0L118.8,396.4M120.9,397.1L120.6,399.1L120.7,400.5L120.6,400.5M117.3,401.0L116.5,399.4L116.7,398.6L115.8,398.0L115.2,397.9L114.2,399.1L114.2,399.1M115.2,397.9L114.9,397.3L113.5,396.8L112.9,397.5M116.9,396.6L116.7,398.6M112.6,394.7L112.6,395.4L111.6,396.0M133.7,394.2L134.4,395.1L134.8,396.8L133.7,396.8L134.8,398.7L134.0,399.8L134.0,400.8L133.0,402.7L130.5,402.6M134.8,398.7L137.2,398.3L140.4,396.0L140.9,397.5M140.1,401.3L141.3,400.6L143.9,400.5M135.3,405.9L134.0,405.9L134.0,402.7L133.0,402.7M131.6,406.2L131.6,403.6L130.5,403.6M141.3,397.5L142.4,396.5M143.9,400.5L145.4,401.0L146.4,401.7L148.9,401.2L149.9,400.3L148.9,398.4L148.1,398.3L148.9,397.1M150.4,401.0L149.9,400.3M154.9,401.4L155.7,400.9L157.2,400.6L159.5,398.3L158.8,398.3L156.5,397.5L155.7,396.0L156.0,395.6M150.8,392.9L151.8,392.9L153.6,393.2L155.3,394.8L155.9,394.8M155.3,394.8L154.8,396.0L155.7,396.0M132.0,417.8L133.7,417.8L137.1,417.8L139.0,418.2L139.0,418.6L139.0,421.6L138.2,421.6L138.2,427.0L136.3,427.2L135.6,427.1" fill="none" stroke="#f8f8f8" stroke-width="0.5"/><path d="M113.1,382.4L114.2,381.8L115.4,380.9L115.6,379.6L116.5,377.5L117.7,376.9L118.4,375.2L119.0,375.2L120.7,375.7L121.3,375.8L121.7,376.4L121.7,377.6L122.1,378.5L120.7,378.9L120.3,379.7L119.2,380.4L118.1,380.8L116.4,381.6L116.4,382.4ZM129.5,374.1L130.5,373.8L131.4,374.1L131.0,375.2L131.4,376.4L130.8,376.9L131.5,377.6L131.8,377.7L131.8,378.2L130.8,378.9L130.6,380.2L130.2,380.2L129.8,378.7L128.8,377.6L129.2,376.2L129.3,375.0ZM142.0,379.0L143.9,379.4L145.1,379.7L145.8,379.3L146.6,379.1L147.6,379.4L149.0,379.3L149.6,380.9L149.0,382.4L148.3,381.7L147.8,380.5L148.5,382.2L149.3,383.9L150.0,385.6L151.1,387.2L142.0,387.2ZM142.0,387.2L151.1,387.2L151.4,388.5L152.3,390.5L151.2,391.3L150.8,392.9L150.5,394.0L149.6,395.2L149.0,396.3L148.9,397.1L147.4,396.8L147.7,395.2L145.8,396.8L144.3,397.1L142.4,396.5L141.3,397.5L140.9,397.5L140.5,396.0L140.0,394.4L140.5,392.5L141.3,392.3L141.3,388.9L142.0,388.9ZM110.4,392.1L112.0,391.6L113.1,392.5L113.7,393.1L114.2,394.9L112.6,394.7L110.3,394.9L110.3,394.0L109.7,393.1ZM120.7,400.5L121.9,400.6L123.8,399.9L123.9,399.7L123.4,398.3L123.0,396.4L122.8,395.9L120.9,396.0L120.9,397.1L120.6,399.1ZM125.1,399.5L126.4,399.7L127.6,401.1L128.3,401.1L129.5,400.9L129.8,399.8L131.0,399.1L132.0,399.1L133.3,396.8L134.0,395.2L133.7,394.2L132.1,394.3L129.8,394.6L128.3,394.4L127.2,393.8L126.0,394.0L125.7,395.4L125.1,397.5ZM132.4,409.0L133.0,408.9L135.6,408.9L135.9,410.1L137.8,409.7L139.6,410.0L139.7,412.8L141.3,412.8L142.4,413.4L143.9,413.8L145.1,414.7L145.7,413.8L144.6,413.4L144.8,411.7L146.4,410.7L145.3,407.8L145.2,405.9L145.5,405.5L145.6,403.8L146.7,402.7L146.4,401.7L145.4,401.0L143.9,400.5L142.0,400.6L140.1,401.3L137.8,400.5L137.2,401.7L136.5,404.2L135.3,405.9L135.2,407.4L134.0,408.1L132.9,407.9ZM145.5,405.5L146.2,405.2L148.9,405.2L149.6,403.1L148.9,401.2L146.6,401.6L146.4,401.7L146.7,402.7L145.6,403.8ZM148.9,405.2L151.7,406.8L152.8,408.0L153.8,406.5L154.6,405.7L154.2,404.4L154.2,402.3L154.9,401.4L153.1,401.7L151.9,401.7L150.4,401.0L148.9,401.2L149.6,403.1ZM145.3,407.8L146.4,410.7L148.0,411.6L149.3,411.7L149.3,413.2L151.5,413.4L153.7,412.4L153.1,410.9L152.6,409.4L152.8,408.0L151.7,406.8L148.9,405.2L146.2,405.2L146.2,406.2L146.4,406.9ZM145.2,405.9L145.5,405.5L146.2,405.2L146.2,406.2L146.4,406.9L145.3,407.8ZM132.4,409.0L133.1,411.3L133.4,413.6L132.4,415.9L132.0,417.8L133.7,417.8L137.1,417.8L139.0,418.2L140.7,418.0L139.7,416.9L139.7,414.4L141.3,414.4L141.3,412.8L139.7,412.8L139.6,410.0L137.8,409.7L135.9,410.1L135.6,408.9L133.0,408.9ZM139.7,414.4L139.7,416.9L140.7,418.0L142.3,418.2L143.5,418.3L145.0,416.7L146.1,416.4L146.0,415.8L148.3,415.2L148.0,411.6L146.4,410.7L144.8,411.7L144.6,413.4L145.7,413.8L145.1,414.7L143.9,413.8L142.4,413.4L141.3,412.8L141.3,414.4ZM148.0,411.6L149.3,411.7L149.3,413.2L150.2,415.6L149.9,417.4L149.1,416.7L148.3,415.2ZM153.7,412.4L153.9,415.6L153.4,417.0L151.5,418.2L149.6,419.9L149.9,421.6L150.0,423.2L148.1,424.5L147.9,424.9L148.0,425.7L147.4,425.6L147.4,423.6L146.8,421.9L147.7,421.0L148.1,419.8L148.0,418.3L148.1,417.3L146.1,416.4L146.0,415.8L148.3,415.2L149.1,416.7L149.9,417.4L150.2,415.6L149.3,413.2L151.5,413.4ZM142.3,418.2L143.5,418.3L145.0,416.7L146.1,416.4L148.1,417.3L148.0,418.3L148.1,419.8L147.7,421.0L146.8,421.9L145.4,421.7L144.1,420.3L142.8,419.1ZM138.2,423.9L138.2,421.6L139.0,421.6L139.0,418.6L140.7,418.0L142.3,418.2L142.8,419.1L144.1,420.3L145.4,421.7L143.5,423.0L142.4,424.6L140.5,424.3L139.4,425.6L138.8,425.6ZM135.6,427.1L135.9,427.9L136.9,430.6L137.0,432.1L138.2,432.7L139.7,432.2L142.5,431.9L143.5,431.5L145.1,430.1L146.6,428.3L148.0,426.6L148.0,425.7L147.4,425.6L147.4,423.6L146.8,421.9L145.4,421.7L143.5,423.0L142.4,424.6L140.5,424.3L139.4,425.6L138.8,425.6L138.2,423.9L138.2,427.0L136.3,427.2Z" fill="#c4e6df" stroke="#3c4d52" stroke-width="0.65" stroke-linejoin="round"/><path d="M143.7,428.0L144.8,427.1L145.4,427.9L144.5,428.9Z" fill="#ebebeb" stroke="#3c4d52" stroke-width="0.65" stroke-linejoin="round"/><path d="M15.7,329.6L17.2,329.8L19.5,331.1L21.0,329.8L24.1,328.5L25.6,327.8L27.9,330.0L30.2,329.2L33.2,330.9L35.5,331.1L37.8,333.4L40.1,333.4L40.8,332.2L42.7,331.7L45.4,333.4L48.0,333.4L48.8,332.0L49.9,332.6L49.6,330.9L50.3,328.7L49.6,325.7L51.1,324.1L52.6,326.5L53.0,329.4L54.1,330.9L54.5,332.0L56.0,331.3L56.0,334.0L57.6,333.0L57.9,329.2L60.6,329.6L61.1,332.0L60.2,335.9L57.9,336.3L56.8,338.2L55.3,340.5L53.7,340.8L52.2,343.0L51.5,345.1L50.9,347.0L50.9,348.8L52.2,348.9L52.6,351.4L54.5,351.4L56.8,352.7L58.3,353.7L60.4,353.9L60.4,356.7L61.4,357.9L62.1,358.9L62.9,358.5L63.1,357.3L62.9,355.4L62.5,354.5L64.4,353.1L64.8,351.4L63.3,348.8L64.0,347.0L63.6,343.3L65.5,343.3L67.1,343.8L68.2,345.0L69.7,345.4L70.1,348.5L71.6,349.5L73.2,347.7L73.9,346.4L75.1,349.2L76.2,351.8L77.3,353.7L78.9,354.3L79.6,355.8L80.5,357.7L79.6,358.5L78.1,360.0L76.2,360.2L74.3,360.0L72.4,360.1L70.9,361.5L69.7,363.2L69.0,364.0L70.5,362.3L72.0,361.5L73.5,361.3L74.1,361.7L73.5,362.7L72.8,362.7L73.5,363.8L73.9,364.7L75.1,365.1L76.2,365.2L77.3,364.9L77.3,363.8L76.6,365.6L74.7,366.4L73.2,367.6L72.6,367.0L73.5,366.0L73.9,365.6L73.2,365.8L72.0,366.0L72.0,366.2L71.7,365.8L71.4,365.2L71.4,363.7L71.0,363.4L70.3,363.3L69.7,364.1L69.5,364.7L69.0,365.6L68.6,366.0L65.9,366.0L64.9,366.8L64.6,367.5L63.1,367.5L62.8,367.8L62.9,368.2L61.4,368.9L59.8,369.0L60.3,368.1L60.2,365.6L59.5,364.9L58.7,364.3L58.5,363.9L55.7,362.3L54.8,362.7L53.4,362.5L52.2,362.0L51.0,361.9L50.9,361.2L50.6,361.5L29.2,361.5L28.1,362.2L29.0,361.2L27.9,360.0L26.4,359.1L25.6,357.3L24.5,356.0L23.8,354.7L24.1,354.1L24.1,352.7L22.9,352.0L21.4,349.2L20.3,347.7L18.4,348.5L17.2,347.0L15.7,346.5ZM73.5,343.8L69.7,342.7L66.7,339.6L63.6,339.3L67.1,337.8L67.4,334.0L64.4,329.8L62.1,328.7L58.3,328.7L54.9,326.5L54.5,320.2L58.3,319.4L61.4,319.7L63.6,321.5L66.7,324.5L69.3,326.5L71.3,328.7L72.0,330.9L75.1,334.0L76.2,335.6L74.7,338.7L72.8,337.8L73.9,341.3ZM45.8,329.8L43.1,330.9L39.3,331.5L36.2,332.0L34.0,329.8L33.6,326.5L32.4,324.8L35.5,320.7L39.3,321.8L43.1,320.7L43.1,324.1L45.4,325.3ZM27.5,324.1L29.0,326.0L31.3,325.3L33.2,322.8L34.7,321.0L33.6,318.3L30.9,317.4L28.3,318.0L28.6,321.5ZM63.6,311.4L55.3,311.4L56.0,306.2L58.3,302.4L56.8,295.9L53.0,292.6L57.6,288.4L62.1,282.6L69.7,281.9L75.8,285.6L74.3,291.1L71.3,294.5L68.2,299.5L65.9,302.4L65.2,306.2ZM62.1,317.2L57.6,317.4L53.0,316.6L52.6,313.0L55.3,311.7L60.6,313.0L62.1,313.9ZM57.2,305.4L52.2,301.5L51.5,295.9L53.7,293.1L56.4,296.8ZM42.3,316.0L39.3,316.6L36.2,316.9L33.6,315.1L34.0,312.3L37.0,312.0L40.1,310.7L42.7,313.0ZM45.0,321.5L47.7,324.5L49.2,322.8L48.8,319.4L46.1,319.1ZM50.3,324.1L54.1,322.0L54.1,318.8L50.3,318.6ZM46.9,316.0L49.2,315.4L49.2,311.4L46.9,310.7L45.4,313.0ZM47.3,330.9L49.2,331.7L50.3,330.3L48.8,329.0ZM56.4,340.5L57.9,341.9L60.6,341.0L62.0,340.8L60.6,339.3L58.7,336.9L56.8,338.7ZM77.9,363.0L80.4,363.9L82.7,364.2L82.9,363.1L82.3,361.5L80.8,360.9L80.8,358.4L79.2,359.7L78.5,361.5ZM25.4,359.4L27.5,360.0L29.0,362.1L27.5,361.6ZM21.8,355.3L22.8,355.4L23.2,357.5L22.2,356.7ZM73.9,360.5L76.0,361.4L75.1,361.3ZM30.2,313.0L33.2,311.4L34.7,308.7L32.4,308.7ZM43.9,308.0L47.7,306.9L46.9,303.1L43.9,304.3Z" fill="#aedcda" stroke="#3c4d52" stroke-width="0.65" stroke-linejoin="round"/><path d="M144.3,369.6L144.5,367.8L145.4,366.0L146.4,364.3L148.1,364.9L147.8,365.5L148.6,366.5L149.9,366.0L150.9,365.6L149.6,364.9L151.5,363.8L152.8,363.6L151.9,364.9L151.4,365.6L152.3,366.7L153.4,367.6L154.7,369.1L154.4,369.8L152.7,370.1L150.8,369.8L149.6,369.1L148.1,369.1L147.0,369.9L145.2,369.9ZM158.8,365.4L160.7,364.3L162.2,363.8L163.3,364.3L163.3,365.6L161.8,366.5L161.4,367.6L163.0,368.6L163.1,369.8L164.1,370.4L163.3,371.6L164.1,373.6L162.6,374.2L161.1,373.7L160.3,372.6L160.5,370.8L161.3,370.7L159.9,369.3L159.1,368.1L158.8,366.5Z" fill="#fff" stroke="#3c4d52" stroke-width="0.65" stroke-linejoin="round"/><path d="M52.8,393.2L52.8,392.6L53.2,392.0L54.2,392.0L53.7,391.1L53.7,390.6L55.1,390.6L55.1,392.1L55.9,392.3M55.1,390.6L55.8,390.1M54.4,393.8L55.0,393.3L55.1,392.9L55.9,392.3M55.0,393.3L56.2,394.1M56.6,394.4L57.6,393.8L58.3,393.2L59.7,392.9M57.8,395.9L59.3,396.1M59.9,398.2L60.1,397.1M68.7,395.4L67.8,396.0L67.4,397.3L67.9,398.1L68.2,398.9L69.7,399.1L71.6,399.7L71.4,401.4L72.0,402.9L72.1,403.5M72.1,403.5L73.2,403.8L74.3,402.9L74.3,401.4L75.2,401.5L76.6,401.0L76.8,400.4M76.8,400.4L76.4,399.8L77.3,398.3L77.3,397.9M76.8,400.4L77.3,400.6L77.5,401.7L77.7,403.0L78.5,403.4L79.6,402.9L80.0,403.0M79.5,399.8L79.2,400.6L78.9,401.4L80.0,403.0M81.9,400.0L81.5,401.0L81.5,402.6M80.0,403.0L81.5,402.6L83.0,402.6L83.7,401.2M72.1,403.5L72.0,403.0L69.9,403.1L70.1,403.9L69.7,404.0L70.1,405.2L69.8,407.6M69.8,407.6L69.2,407.3L67.8,406.2L67.1,405.4L65.7,404.5M65.7,404.5L64.8,404.2L64.0,403.9L63.0,403.3M65.7,404.5L65.5,405.5L64.8,406.4L63.6,406.9L63.3,407.8L62.5,408.2L61.9,407.7L61.9,407.0M69.8,407.6L67.6,408.3L66.8,410.0L67.5,411.6L69.3,411.7L69.3,412.8L70.1,412.8M70.1,412.8L70.6,414.0L70.5,415.6L70.3,416.3L70.5,417.1L70.1,417.9L69.4,418.6M70.1,412.8L71.3,412.6L73.3,411.9L73.3,413.2L74.3,414.0L75.8,414.8L77.0,415.0L77.2,416.9L78.6,417.0L79.2,418.3L78.9,419.8L78.7,420.1M78.7,420.1L78.1,419.4L76.0,419.6L75.4,421.7M75.4,421.7L74.1,422.2L73.4,421.7L72.5,421.4L71.9,422.2M71.9,422.2L71.1,421.0L70.9,419.5L70.5,419.1L70.1,417.9M71.9,422.2L70.9,423.6L71.0,425.3L70.1,427.0L69.7,428.8L69.7,431.0L69.5,433.3L69.0,435.2L68.6,437.7L68.4,440.2L68.6,442.8L68.2,445.6L67.4,447.9L68.0,449.7L68.6,450.9L70.5,451.1L70.9,451.4M70.8,451.8L70.8,454.6M78.7,420.1L79.0,421.7L80.5,421.8L80.8,423.1L81.7,423.2L81.4,424.6M75.4,421.7L76.6,423.1L78.5,424.1L79.2,424.4L78.4,425.9L80.0,426.1L80.6,426.1L81.4,424.6M81.4,424.6L82.1,425.5L82.1,425.9L80.5,427.0L79.2,428.5M79.2,428.5L80.4,429.1L81.9,429.9L82.4,430.8L82.4,431.7M79.2,428.5L78.7,430.6L78.6,431.8M68.4,389.1L68.4,390.4M116.3,369.2L116.8,369.1L118.0,369.2L118.3,369.6L117.7,370.1L117.7,371.4L117.3,371.5L117.7,372.9L117.4,373.9M121.6,367.7L123.5,368.4L125.4,368.7M124.9,359.0L126.2,360.3L126.7,360.3L127.6,360.9L129.2,361.5L128.8,363.1L127.6,364.6L128.3,365.0L128.2,365.9L128.3,366.8L128.7,367.2M125.6,358.6L126.8,358.6L127.6,359.1L127.6,359.4L127.6,360.2L127.6,360.9M127.6,359.1L127.6,358.2L128.3,357.7L128.5,356.3M129.5,354.2L130.5,354.3M133.9,355.5L134.1,357.3L134.4,359.1L132.2,360.0L133.5,361.7L132.9,363.2L131.0,363.2L130.3,363.2L128.8,363.1M128.3,365.0L129.5,364.6L129.8,365.1L131.0,364.0L130.3,363.2M131.0,364.0L132.3,363.8L133.4,364.3L133.3,365.3M133.5,361.7L134.4,361.5L135.9,362.0L136.0,362.7L135.3,363.9L133.4,364.3M134.4,359.1L135.9,359.9L137.3,360.9L135.9,362.0M137.3,360.9L138.2,361.3L140.2,361.4M136.0,362.7L137.3,362.9L138.6,362.1L139.9,362.2M140.2,361.4L141.3,359.6L141.0,358.5L141.0,357.2L141.2,355.5L140.9,355.4M138.1,354.9L140.4,354.9L140.9,355.4M139.1,353.7L140.4,354.1L140.4,354.9M139.0,352.6L141.9,352.2L143.2,353.1M141.6,350.1L143.9,350.6M144.5,347.9L143.9,350.6L144.5,352.6L143.2,353.1L142.6,355.1L140.9,355.4M144.5,352.6L146.5,353.3L146.6,354.5L147.9,356.2L146.9,357.8M141.0,358.5L143.7,358.4L146.2,358.8L146.9,357.8L148.9,357.5L150.1,359.9L151.9,360.5L153.5,360.8L153.3,362.8L152.1,363.7M140.2,361.4L139.9,362.2L140.4,362.7L141.9,363.0L143.2,362.3L144.5,365.4L145.6,365.6M143.2,362.3L145.2,362.7L145.9,364.4L144.5,365.4M140.4,362.7L139.1,364.8L138.4,364.8L137.3,365.0L135.3,363.9M138.4,364.8L139.3,366.2L140.3,366.8L142.0,367.4L143.5,366.9L144.8,367.4M140.3,366.8L140.0,368.8L140.4,369.8L142.3,369.9L143.0,369.4L144.3,369.1M143.0,369.4L142.8,370.4M138.2,371.4L139.0,370.2L140.4,369.8M137.8,369.2L138.7,369.2L139.0,370.2M133.3,365.4L134.6,365.4L135.3,363.9M137.3,365.0L137.5,366.1L137.8,367.6L137.1,368.6M135.0,365.8L135.2,367.0L136.4,368.2M137.8,367.6L138.5,368.3L138.7,369.2M138.5,368.3L139.5,368.8L140.0,368.8M131.5,348.5L132.5,346.2L132.3,344.6L132.3,342.2L133.7,339.6L134.4,336.5L135.6,334.0L136.9,332.0L138.6,330.9L140.9,331.5L142.6,330.9L143.2,329.0L145.0,330.7L146.4,329.2M138.6,330.9L141.0,333.2L141.3,337.3M145.0,330.7L144.7,332.6L145.8,333.6L145.2,335.4L145.9,337.4L145.7,339.1L147.0,342.4L144.2,346.2M117.4,355.3L118.2,355.3L117.4,354.1M153.4,367.6L155.7,368.5L158.4,369.3L160.0,369.3M154.6,369.6L156.1,370.0L157.2,369.8L158.4,369.3M156.1,370.0L157.1,371.4M157.2,369.8L158.4,372.2M160.2,372.7L159.5,371.5L158.4,372.2L157.1,371.4L156.5,371.7L156.8,373.1L157.1,373.9M150.9,374.2L151.9,374.2L155.2,373.9L157.1,373.9M157.1,373.9L158.0,375.2L157.5,376.9L158.0,377.8L159.3,379.1L159.9,380.4M155.2,373.9L154.4,376.2L152.5,377.4L152.8,378.5L153.7,378.8L155.0,379.5L157.0,381.1L158.4,381.2L159.3,380.4L159.5,380.4M152.5,377.4L151.0,378.4L150.2,378.0M152.8,378.5L151.2,379.1L151.9,380.0L151.5,380.4L150.4,381.1L149.6,381.0M149.1,379.3L149.6,380.9M150.0,377.7L150.1,378.3L150.0,379.2L149.6,380.9M149.7,377.7L150.4,377.5L150.7,376.4L150.4,376.3M158.4,381.2L159.1,381.8L159.8,381.8M155.6,391.7L156.0,391.0L156.9,391.0L158.8,391.3L159.9,390.3L162.6,389.7L164.9,388.9L165.3,387.2L165.0,386.7L163.0,386.5L162.3,385.4M162.6,389.7L163.4,391.5M165.0,386.7L165.5,385.4L165.8,384.8L165.7,383.9M161.7,385.0L162.0,385.1M160.3,364.6L158.8,362.7L158.4,362.1L158.8,360.6L159.9,360.3L161.4,358.4L163.3,358.8L164.9,359.5L167.1,359.1L169.4,359.4L169.8,358.8L168.7,356.0L169.8,355.4L172.5,354.7L175.5,353.7L177.0,354.1L176.9,355.1L178.9,355.4L181.2,355.0L181.6,356.3L183.9,359.4L186.2,359.1L188.1,360.8L189.4,361.4M189.4,361.4L191.1,360.6L193.0,359.5L195.3,360.3L197.6,359.7L197.8,357.9L198.3,357.9L200.6,358.6L200.8,359.7L202.9,359.9L204.4,360.7L206.7,361.3L209.0,360.6L211.8,360.6M211.8,360.6L212.8,360.9L213.9,359.7L214.9,357.3L214.9,356.3L217.0,356.0L218.9,356.9L220.0,360.6L222.3,361.7L222.7,363.0L225.5,362.2L224.6,365.4L223.1,366.0L222.7,368.1L222.4,368.7M189.4,361.4L190.0,362.1L191.9,363.2L192.3,365.8L195.3,366.7L196.1,368.3L199.1,368.5L202.9,369.4L206.7,368.4L208.1,367.4L210.5,365.5L212.0,364.3L214.2,364.1L214.1,363.6L212.8,362.7L211.3,361.7L210.9,362.8L211.8,360.6M189.4,361.4L188.3,362.2L188.1,363.8L186.2,363.6L185.6,365.4L183.9,366.0L184.1,368.3L184.0,368.9M184.0,368.9L182.4,370.1L181.2,370.6L179.2,371.5L180.0,373.8M180.0,373.8L180.5,374.2L180.8,375.2L182.4,375.5L183.1,376.6L183.0,378.2L182.9,379.3L183.5,379.6L184.6,380.3M184.6,380.3L186.2,381.1L188.4,382.2L190.0,382.3L190.6,382.2L192.7,382.4L193.1,382.4L194.5,381.1L196.1,381.0L197.0,381.9M197.0,381.9L198.1,382.6L198.1,384.1L197.3,385.6L198.2,385.6L198.5,387.1L199.3,387.6L200.0,387.9L200.5,386.9L200.8,386.8L202.1,386.6L203.1,386.2L204.2,386.6L204.2,387.2L205.2,387.6M174.9,385.8L177.0,385.1L176.3,383.5L176.5,382.2L178.2,381.3L179.2,380.4L179.8,379.1L179.8,378.0L179.3,377.0L179.7,376.2L181.6,375.9L182.2,375.5M184.0,380.3L184.0,381.5L186.2,382.7L187.7,383.2L190.0,383.6L190.0,382.3M190.0,383.6L190.6,383.6L190.7,384.5L190.1,385.0L190.6,386.2L190.7,387.4M191.3,383.9L191.3,384.5L193.3,384.7L192.4,385.5L192.5,386.2L193.2,385.8L193.5,387.8L193.2,388.2M193.5,387.2L194.0,386.4L194.0,385.6L195.1,384.3L195.4,383.4L196.8,382.4L197.0,381.9M190.6,382.9L191.3,383.3L193.1,383.1L193.1,382.4M180.0,373.8L178.9,374.2L177.4,375.0L177.0,376.4L176.3,377.5L175.7,378.8L173.6,380.4L173.5,380.6L170.6,381.0L169.3,380.6M169.3,380.6L170.8,382.9L171.1,383.4L169.9,384.6M169.3,380.6L170.0,379.6L169.3,379.1L169.0,377.1L169.6,375.4L168.7,374.1L166.4,372.9L164.7,373.7L164.0,373.8M163.0,369.3L164.1,368.8L165.2,369.8L165.6,369.8L165.6,366.0L167.6,365.3L169.4,366.7L170.2,367.6L172.4,367.4L173.3,368.1L173.2,369.2L173.8,369.9L174.7,370.1L175.2,370.5L176.3,369.8L177.0,368.8L178.9,368.7L178.9,368.1L180.1,368.2L181.6,368.2L183.3,368.3L184.0,368.9M165.6,369.8L166.4,369.8L167.5,368.4L168.7,368.9L168.7,369.7L170.1,370.0L170.6,371.1L172.0,372.2L173.6,373.7L174.7,374.1L175.9,373.5L177.2,372.7L177.5,374.2M173.6,373.7L174.7,372.9L174.6,371.6L175.5,370.9L176.7,370.9L177.0,368.8M176.7,371.1L179.2,371.5M199.2,388.5L197.6,389.1L197.2,390.1L198.0,391.3L197.7,392.7L198.5,394.4L198.8,395.4L198.1,396.6M200.0,387.9L199.2,388.5L199.5,389.3L200.0,389.3L199.9,390.7L200.7,390.3L201.7,390.2L202.7,390.9L202.7,391.7L203.4,392.5L203.1,393.4L201.4,393.5L200.9,394.0L201.3,395.4M200.8,386.8L201.4,388.2L202.6,388.5L202.1,389.3L203.1,390.1L204.2,391.7L204.8,392.9L204.8,393.2L204.8,394.9L203.7,395.4L203.5,396.0L202.5,396.4M203.1,393.4L204.8,393.2M199.2,399.5L199.9,400.0L200.7,399.7M206.4,402.9L207.1,403.7L208.2,403.3L209.8,403.3L210.5,402.5L210.9,401.1L212.4,401.2M230.3,406.4L230.3,411.4M219.4,373.3L220.7,372.5M217.6,371.1L218.9,370.1L220.4,369.6L221.7,368.6L222.4,368.7M217.4,411.6L218.1,411.3L218.3,411.7" fill="none" stroke="#3c4d52" stroke-width="0.65" stroke-linejoin="round"/><path d="M28.1,362.2L29.2,361.5L50.6,361.5L50.9,361.2L51.0,361.9L52.2,362.0L53.4,362.5L54.8,362.7L55.7,362.3L58.5,363.9L58.7,364.3L59.5,364.9L60.2,365.6L60.3,368.1L59.8,369.0L61.4,368.9L62.9,368.2L62.8,367.8L63.1,367.5L64.6,367.5L64.9,366.8L65.9,366.0L68.6,366.0L69.0,365.6L69.5,364.7L69.7,364.1L70.3,363.3L71.0,363.4L71.4,363.7L71.4,365.2L71.7,365.8L72.0,366.2L70.9,366.7L69.7,367.2L69.2,368.0L69.1,368.4L69.0,368.8L69.3,369.2L69.7,369.3L69.8,369.4L69.3,369.6L68.7,369.6L67.5,369.9L66.9,370.2L68.2,370.1L66.7,370.6L66.6,371.4L66.0,372.2L65.5,371.7L65.8,372.3L65.8,372.8L65.2,374.0L64.9,374.1L65.2,374.4L65.5,375.7L64.8,376.2L63.7,377.0L62.9,377.4L62.1,378.1L61.4,378.7L61.1,379.8L61.1,380.6L61.7,381.8L62.1,383.2L62.0,384.3L61.4,384.7L60.8,383.9L60.1,382.5L60.0,381.4L59.3,380.5L58.8,380.4L58.1,380.7L57.2,380.1L56.0,380.2L55.3,380.2L54.8,380.4L55.1,381.2L54.1,381.1L53.1,380.9L52.0,380.6L50.9,381.0L50.0,381.7L49.0,382.4L49.0,383.9L47.6,383.6L47.3,382.6L46.7,381.9L46.1,381.0L45.1,380.6L44.5,381.3L43.5,380.8L43.2,379.9L42.0,378.9L40.7,378.9L40.7,379.3L38.5,379.3L35.6,378.2L33.9,378.2L33.7,377.7L32.9,377.0L32.8,376.9L32.1,376.5L31.3,376.4L31.1,375.7L30.2,374.4L29.8,373.3L29.4,373.1L28.8,371.8L28.3,370.7L28.6,369.6L28.3,368.3L28.6,367.0L28.7,364.7L28.6,364.1ZM15.7,329.6L15.7,346.5L17.2,347.0L18.4,348.5L20.3,347.7L21.4,349.2L22.9,352.0L24.1,352.7L24.1,354.1L22.9,354.1L21.4,352.7L20.3,350.6L19.1,349.6L18.0,348.5L16.5,347.4L14.9,347.0L13.4,347.0L11.9,345.7L10.4,346.2L9.2,347.4L7.7,348.2L7.3,346.2L8.8,345.1L7.7,345.4L6.2,347.7L5.4,349.2L3.9,350.9L2.4,352.7L0.5,353.8L-1.4,354.5L-2.2,354.7L-0.7,353.1L0.9,352.7L2.4,350.6L3.1,348.9L2.0,349.2L0.1,348.9L-0.3,347.0L-2.2,346.2L-3.3,344.6L-2.6,342.7L-1.0,341.9L0.5,341.2L0.5,339.6L-1.4,339.6L-3.7,339.3L-4.8,337.6L-3.7,336.5L-1.8,335.9L0.1,336.3L-1.4,335.0L-1.8,333.6L-3.7,332.2L-2.6,330.9L-1.0,329.2L1.2,327.4L3.9,325.7L6.6,326.7L8.8,327.6L11.9,328.3L14.2,328.5ZM289.7,329.6L289.7,346.5L291.2,347.0L292.3,348.5L294.2,347.7L295.4,349.2L296.9,352.0L298.0,352.7L298.0,354.1L296.9,354.1L295.4,352.7L294.2,350.6L293.1,349.6L291.9,348.5L290.4,347.4L288.9,347.0L287.4,347.0L285.9,345.7L284.3,346.2L283.2,347.4L281.7,348.2L281.3,346.2L282.8,345.1L281.7,345.4L280.1,347.7L279.4,349.2L277.9,350.9L276.3,352.7L274.4,353.8L272.5,354.5L271.8,354.7L273.3,353.1L274.8,352.7L276.3,350.6L277.1,348.9L276.0,349.2L274.1,348.9L273.7,347.0L271.8,346.2L270.6,344.6L271.4,342.7L272.9,341.9L274.4,341.2L274.4,339.6L272.5,339.6L270.3,339.3L269.1,337.6L270.3,336.5L272.2,335.9L274.1,336.3L272.5,335.0L272.2,333.6L270.3,332.2L271.4,330.9L272.9,329.2L275.2,327.4L277.9,325.7L280.5,326.7L282.8,327.6L285.9,328.3L288.1,328.5ZM4.3,388.7L5.0,388.9L5.0,389.4L4.5,389.7L4.3,389.3ZM278.2,388.7L279.0,388.9L279.0,389.4L278.5,389.7L278.2,389.3ZM2.6,387.6L3.0,387.8L2.7,387.8ZM276.6,387.6L277.0,387.8L276.6,387.8ZM3.8,388.0L4.3,388.2L4.0,388.4ZM277.7,388.0L278.2,388.2L277.9,388.4ZM1.4,387.1L1.8,387.1L1.6,387.3ZM275.4,387.1L275.7,387.1L275.6,387.3ZM5.8,350.1L7.1,350.2L6.9,350.9L5.6,351.4ZM279.8,350.1L281.1,350.2L280.9,350.9L279.5,351.4ZM266.3,341.2L268.4,341.9L267.6,342.2ZM269.9,346.7L270.9,346.7L270.5,347.3ZM269.1,356.0L270.4,355.4L270.0,356.2ZM272.5,354.2L270.3,355.4L268.4,356.4L265.7,357.3L262.6,357.9L260.4,358.0L260.4,358.3L262.6,358.2L265.7,357.7L268.4,356.8L270.3,355.8L272.5,354.6ZM71.9,390.1L73.1,390.2L72.9,390.5L71.9,390.5Z" fill="#4674a3" stroke="#34506e" stroke-width="0.65" stroke-linejoin="round"/><circle cx="273.7" cy="400.1" r="2.4" fill="#c4e6df" stroke="#42555a" stroke-width="0.55"/></svg><div class="attr">© 2025 Mapbox © OpenStreetMap</div></div>
<div class="panel" style="left:285.8px;top:294.5px;width:274px;height:241.8px;background:#fff"><svg style="position:absolute;left:0;top:0" width="274" height="241.8" viewBox="285.8 294.5 274 241.8"><path d="M168.5,514.4L176.1,516.3L183.8,514.4L191.4,510.9L199.1,506.1L206.8,503.1L214.4,501.7L222.0,503.1L229.7,499.0L237.3,499.0L245.0,500.3L248.8,496.5L252.6,489.6L254.9,485.5L256.5,482.6L258.8,480.8L262.6,478.7L261.4,480.8L259.5,483.6L258.8,487.5L259.5,494.1L259.5,499.0L258.8,504.6L260.3,507.6L267.9,514.4L275.6,516.3L279.4,513.7L283.2,509.2L287.1,504.6L290.9,500.3L294.7,497.7L298.6,494.1L306.2,491.8L313.8,491.8L321.5,491.8L329.1,490.7L333.0,489.6L336.8,488.5L340.6,486.9L344.4,485.5L348.3,483.6L352.1,486.5L355.9,487.1L359.8,488.5L361.3,490.7L363.6,490.7L365.9,488.5L367.4,487.1L371.2,485.1L375.0,484.9L378.9,484.5L382.7,483.6L386.5,484.5L390.4,484.1L394.2,484.5L398.0,485.1L401.8,484.5L405.6,484.0L409.5,483.6L413.3,485.1L417.1,485.9L420.9,488.5L424.8,489.6L428.6,492.2L432.4,493.6L436.2,495.2L436.2,499.0L434.0,504.6L432.4,512.6L436.2,514.4L443.9,514.4L443.9,623.5L168.5,623.5ZM443.9,514.4L451.5,516.3L459.2,514.4L466.9,510.9L474.5,506.1L482.1,503.1L489.8,501.7L497.4,503.1L505.1,499.0L512.8,499.0L520.4,500.3L524.2,496.5L528.0,489.6L530.3,485.5L531.9,482.6L534.2,480.8L538.0,478.7L536.8,480.8L534.9,483.6L534.2,487.5L534.9,494.1L534.9,499.0L534.2,504.6L535.7,507.6L543.4,514.4L551.0,516.3L554.8,513.7L558.6,509.2L562.5,504.6L566.3,500.3L570.1,497.7L574.0,494.1L581.6,491.8L589.2,491.8L596.9,491.8L604.5,490.7L608.4,489.6L612.2,488.5L616.0,486.9L619.8,485.5L623.7,483.6L627.5,486.5L631.3,487.1L635.1,488.5L636.7,490.7L639.0,490.7L641.3,488.5L642.8,487.1L646.6,485.1L650.5,484.9L654.3,484.5L658.1,483.6L661.9,484.5L665.8,484.1L669.6,484.5L673.4,485.1L677.2,484.5L681.0,484.0L684.9,483.6L688.7,485.1L692.5,485.9L696.4,488.5L700.2,489.6L704.0,492.2L707.8,493.6L711.6,495.2L711.6,499.0L709.4,504.6L707.8,512.6L711.6,514.4L719.3,514.4L719.3,623.5L443.9,623.5Z" fill="#ebebeb"/><path d="M486.2,373.3L487.3,372.6L508.8,372.6L509.1,372.2L509.2,372.9L510.5,373.0L511.6,373.6L513.1,373.7L514.0,373.4L516.7,375.0L517.0,375.4L517.7,376.0L518.5,376.7L518.6,379.2L518.0,380.1L519.6,380.0L521.2,379.3L521.1,378.9L521.4,378.6L522.8,378.6L523.2,377.9L524.2,377.1L526.9,377.1L527.4,376.7L527.8,375.8L528.0,375.2L528.7,374.4L529.4,374.5L529.7,374.8L529.7,376.3L530.0,376.9L530.3,377.3L529.2,377.8L528.0,378.4L527.5,379.1L527.4,379.5L527.3,379.9L527.6,380.3L528.0,380.4L528.1,380.5L527.6,380.7L527.0,380.7L525.8,381.1L525.2,381.4L526.5,381.3L525.0,381.8L524.9,382.6L524.3,383.3L523.8,382.9L524.1,383.4L524.1,383.9L523.5,385.1L523.2,385.2L523.5,385.6L523.8,386.8L523.1,387.4L522.0,388.1L521.2,388.6L520.4,389.3L519.7,389.8L519.3,391.0L519.4,391.8L519.9,393.0L520.4,394.4L520.2,395.5L519.7,395.9L519.0,395.1L518.3,393.7L518.3,392.6L517.6,391.7L517.1,391.6L516.3,391.9L515.4,391.3L514.3,391.4L513.5,391.4L513.1,391.5L513.4,392.4L512.4,392.3L511.4,392.1L510.2,391.8L509.2,392.2L508.2,392.9L507.2,393.6L507.2,395.1L505.8,394.7L505.5,393.8L504.9,393.1L504.3,392.2L503.3,391.8L502.7,392.5L501.7,392.0L501.4,391.1L500.1,390.1L498.8,390.0L498.8,390.5L496.6,390.5L493.8,389.4L492.0,389.4L491.9,388.8L491.0,388.2L490.9,388.0L490.2,387.6L489.4,387.6L489.3,386.9L488.3,385.6L487.9,384.4L487.5,384.2L486.9,383.0L486.4,381.9L486.7,380.7L486.4,379.4L486.7,378.1L486.8,375.8L486.7,375.2ZM473.7,340.5L473.7,357.5L475.3,358.0L476.4,359.5L478.3,358.7L479.5,360.2L481.0,363.1L482.1,363.8L482.1,365.1L481.0,365.1L479.5,363.8L478.3,361.7L477.2,360.7L476.0,359.5L474.5,358.4L473.0,358.0L471.4,358.0L469.9,356.7L468.4,357.2L467.2,358.4L465.7,359.2L465.3,357.2L466.9,356.1L465.7,356.4L464.2,358.7L463.4,360.2L461.9,361.9L460.3,363.8L458.4,364.8L456.5,365.5L455.8,365.8L457.3,364.2L458.8,363.8L460.3,361.7L461.1,359.9L460.0,360.2L458.1,359.9L457.7,358.0L455.8,357.2L454.6,355.6L455.4,353.7L456.9,352.8L458.4,352.1L458.4,350.6L456.5,350.6L454.2,350.2L453.1,348.6L454.2,347.4L456.1,346.9L458.1,347.3L456.5,345.9L456.1,344.5L454.2,343.1L455.4,341.8L456.9,340.1L459.2,338.3L461.9,336.6L464.6,337.6L466.9,338.5L469.9,339.2L472.2,339.4ZM473.7,340.5L475.3,340.7L477.6,342.0L479.1,340.7L482.1,339.4L483.7,338.7L486.0,341.0L488.3,340.1L491.3,341.8L493.6,342.0L495.9,344.3L498.2,344.3L499.0,343.1L500.9,342.7L503.6,344.3L506.2,344.3L507.0,342.9L508.2,343.5L507.8,341.8L508.5,339.6L507.8,336.6L509.3,334.9L510.8,337.3L511.2,340.3L512.4,341.8L512.8,342.9L514.3,342.2L514.3,344.9L515.8,343.9L516.2,340.1L518.9,340.5L519.4,342.9L518.5,346.9L516.2,347.3L515.0,349.1L513.5,351.4L512.0,351.8L510.5,354.0L509.7,356.1L509.2,358.0L509.2,359.8L510.5,359.9L510.8,362.4L512.8,362.4L515.0,363.8L516.6,364.7L518.6,365.0L518.7,367.7L519.6,369.0L520.4,370.0L521.2,369.6L521.4,368.3L521.2,366.4L520.8,365.5L522.7,364.2L523.1,362.4L521.5,359.8L522.3,358.0L521.9,354.3L523.8,354.3L525.4,354.8L526.5,355.9L528.0,356.4L528.4,359.5L530.0,360.5L531.5,358.7L532.3,357.4L533.4,360.2L534.6,362.8L535.7,364.7L537.2,365.4L538.0,366.8L538.9,368.7L538.0,369.6L536.5,371.0L534.6,371.3L532.6,371.0L530.7,371.2L529.2,372.6L528.0,374.3L527.3,375.1L528.8,373.4L530.3,372.6L531.9,372.3L532.4,372.8L531.9,373.7L531.1,373.7L531.9,374.9L532.3,375.8L533.4,376.2L534.6,376.3L535.7,376.0L535.7,374.9L534.9,376.7L533.0,377.5L531.5,378.7L531.0,378.1L531.9,377.1L532.3,376.7L531.5,376.9L530.3,377.1L530.3,377.3L530.0,376.9L529.7,376.3L529.7,374.8L529.4,374.5L528.7,374.4L528.0,375.2L527.8,375.8L527.4,376.7L526.9,377.1L524.2,377.1L523.2,377.9L522.8,378.6L521.4,378.6L521.1,378.9L521.2,379.3L519.6,380.0L518.0,380.1L518.6,379.2L518.5,376.7L517.7,376.0L517.0,375.4L516.7,375.0L514.0,373.4L513.1,373.7L511.6,373.6L510.5,373.0L509.2,372.9L509.1,372.2L508.8,372.6L487.3,372.6L486.2,373.3L487.1,372.2L486.0,371.0L484.4,370.2L483.7,368.3L482.5,367.1L481.9,365.8L482.1,365.1L482.1,363.8L481.0,363.1L479.5,360.2L478.3,358.7L476.4,359.5L475.3,358.0L473.7,357.5ZM492.0,389.4L492.6,390.9L493.5,392.2L494.2,393.4L493.6,393.6L494.8,394.5L495.8,395.9L497.2,397.2L497.5,397.7L497.8,397.2L497.1,396.4L496.3,394.7L495.3,393.4L494.5,391.8L493.9,390.7L493.8,390.0L495.2,390.6L495.7,392.1L496.8,393.5L498.0,395.1L499.0,395.9L500.1,397.4L500.9,398.9L500.9,399.8L501.8,400.9L503.6,401.7L505.1,402.5L507.0,403.4L508.9,403.2L510.1,403.7L511.1,404.5L512.4,405.0L513.9,405.5L514.7,405.7L514.8,406.2L515.8,407.1L516.0,407.6L516.6,408.2L517.6,408.9L518.3,409.5L519.3,409.9L520.2,410.1L520.4,409.3L521.0,408.9L521.8,409.4L522.0,410.1L522.4,409.0L521.5,408.4L520.6,408.4L519.6,408.9L518.6,408.6L517.9,407.8L517.6,407.0L517.7,405.7L518.0,404.1L517.0,403.5L515.8,403.4L514.3,403.5L513.7,403.3L514.1,402.1L514.4,401.3L514.8,400.1L515.2,399.0L514.3,398.8L512.5,399.1L512.2,400.3L511.6,401.3L510.5,401.4L509.2,401.5L508.3,401.1L507.9,400.5L507.2,399.3L506.8,398.0L506.9,396.4L507.2,395.1L505.8,394.7L505.5,393.8L504.9,393.1L504.3,392.2L503.3,391.8L502.7,392.5L501.7,392.0L501.4,391.1L500.1,390.1L498.8,390.0L498.8,390.5L496.6,390.5L493.8,389.4ZM250.4,316.2L254.2,313.1L256.5,304.3L260.3,299.1L267.9,296.3L275.6,290.6L283.2,290.0L289.4,296.3L292.4,301.8L297.0,301.8L292.4,308.9L293.2,313.1L291.7,317.0L292.4,322.2L290.9,326.8L291.7,329.7L289.4,332.4L289.4,334.9L289.4,338.5L287.1,339.6L288.6,340.7L286.3,342.9L283.2,343.7L281.0,345.9L278.7,348.2L276.4,348.8L275.6,350.6L274.8,353.2L273.7,355.6L273.3,357.7L272.2,358.1L271.0,357.0L269.1,356.4L267.9,354.0L266.8,351.4L266.0,348.8L265.3,345.9L265.7,342.9L267.2,340.7L264.5,338.5L264.5,334.9L263.4,331.1L261.8,325.3L258.8,323.1L255.7,323.8L253.4,322.2L251.9,318.8ZM525.8,316.2L529.6,313.1L531.9,304.3L535.7,299.1L543.4,296.3L551.0,290.6L558.6,290.0L564.8,296.3L567.8,301.8L572.4,301.8L567.8,308.9L568.6,313.1L567.1,317.0L567.8,322.2L566.3,326.8L567.1,329.7L564.8,332.4L564.8,334.9L564.8,338.5L562.5,339.6L564.0,340.7L561.7,342.9L558.6,343.7L556.4,345.9L554.1,348.2L551.8,348.8L551.0,350.6L550.2,353.2L549.1,355.6L548.7,357.7L547.6,358.1L546.4,357.0L544.5,356.4L543.4,354.0L542.2,351.4L541.4,348.8L540.7,345.9L541.1,342.9L542.6,340.7L539.9,338.5L539.9,334.9L538.8,331.1L537.2,325.3L534.2,323.1L531.1,323.8L528.8,322.2L527.3,318.8ZM287.5,348.8L289.4,347.1L292.4,347.4L294.7,347.3L295.9,349.7L294.7,350.9L292.0,352.5L290.1,351.8L288.8,351.4L289.4,350.0L287.8,349.9L289.0,349.1ZM301.8,371.3L303.5,371.0L305.4,370.6L307.2,370.1L307.5,368.1L306.4,367.7L306.2,366.8L305.3,365.6L304.7,364.0L303.9,363.8L304.7,361.5L303.1,361.5L303.9,360.1L302.4,360.1L301.6,361.7L302.0,363.8L302.4,365.1L303.5,365.2L303.9,367.1L302.8,367.3L303.0,368.6L302.2,369.2L303.9,369.7L302.8,370.2ZM298.6,369.5L300.1,369.5L301.5,368.7L301.6,367.1L302.0,365.8L301.2,364.8L299.9,364.8L299.7,366.0L298.6,366.2L298.9,367.5L298.3,368.7ZM299.3,385.2L298.9,383.5L299.5,381.3L299.1,379.2L300.1,378.5L302.4,378.7L304.7,378.8L305.2,377.6L305.3,376.0L304.5,374.6L302.6,373.7L302.7,373.0L305.0,372.9L304.8,371.8L306.4,371.9L307.4,370.8L308.1,370.1L309.0,369.3L309.8,367.7L311.2,367.1L312.7,366.7L312.8,364.4L312.5,362.4L314.2,361.4L314.2,363.8L313.7,365.1L314.6,366.4L316.5,365.9L317.1,366.6L318.8,365.8L320.4,365.5L321.3,365.9L322.3,365.1L322.3,362.4L323.4,361.4L324.2,362.4L324.9,360.5L324.2,359.2L326.1,358.6L327.6,358.6L329.3,358.1L328.0,357.0L326.1,357.4L323.8,358.1L322.5,357.0L322.5,354.8L322.6,352.8L324.9,350.0L325.6,348.8L323.2,348.4L322.5,350.6L320.4,353.2L319.4,355.6L319.6,357.2L320.7,358.3L319.2,359.9L318.8,362.4L318.4,363.5L317.1,364.4L316.1,364.6L315.8,363.1L314.8,360.2L314.3,359.0L313.1,360.2L311.6,360.9L310.4,359.6L310.0,357.2L310.0,354.8L311.6,353.2L313.8,351.4L315.4,348.8L316.5,344.9L318.1,342.9L320.0,340.3L322.3,339.2L325.9,337.1L328.0,337.3L329.9,339.0L329.1,340.3L331.4,341.0L333.7,341.4L337.6,344.3L337.6,346.9L335.3,347.6L333.0,346.9L331.4,346.5L332.6,349.7L332.8,350.7L334.9,351.4L335.3,350.0L337.2,350.4L336.8,348.2L338.3,347.1L339.9,347.3L340.1,344.9L339.6,342.9L341.4,343.5L341.8,345.9L343.3,344.5L346.7,343.5L347.9,343.3L349.8,342.7L352.1,342.2L352.5,340.1L355.2,341.2L357.5,342.2L358.4,343.5L359.0,342.0L357.5,340.5L357.3,337.3L358.6,333.7L359.8,331.9L361.7,332.9L361.9,337.3L361.5,340.7L362.4,343.9L361.3,347.3L362.8,344.9L363.4,341.8L362.7,337.3L363.6,333.7L365.5,334.2L367.0,333.7L368.2,331.1L372.4,330.0L372.8,326.8L376.6,324.1L381.2,322.8L386.0,318.0L388.1,321.2L391.9,322.2L393.0,325.3L390.4,328.9L392.6,330.5L396.5,331.1L401.1,330.5L403.4,333.7L404.9,334.9L405.6,337.6L407.9,336.2L412.5,336.2L413.3,333.7L417.9,334.2L420.9,336.2L422.9,337.8L427.1,337.6L428.6,340.3L432.4,340.7L436.2,340.1L437.0,339.6L440.8,340.1L443.9,341.8L447.7,345.3L451.8,347.6L449.3,349.7L447.0,350.6L445.4,348.8L444.7,347.3L443.1,349.7L442.0,350.2L443.5,354.0L440.1,355.1L437.8,356.4L436.2,358.0L433.2,358.0L431.3,358.1L432.0,359.5L430.9,361.2L430.7,363.5L430.0,365.1L428.6,367.5L427.5,369.0L426.1,370.2L425.5,367.7L425.3,365.1L425.9,362.4L427.8,360.2L429.7,358.0L431.3,355.6L428.6,355.6L428.2,356.7L425.9,355.6L424.4,358.7L421.7,359.0L420.2,358.7L417.1,359.0L414.8,359.5L412.2,362.4L409.7,365.4L411.4,366.4L412.9,366.2L414.2,367.7L413.7,369.6L413.5,371.4L413.7,373.7L412.2,375.4L410.2,377.6L407.9,379.4L406.4,379.6L406.0,379.9L405.4,381.3L403.7,382.5L404.4,383.7L405.2,385.2L405.1,386.6L404.5,387.3L403.0,387.6L402.9,386.1L403.2,385.2L401.8,384.4L402.0,382.8L401.3,382.3L399.5,381.8L398.9,383.4L399.4,381.4L397.6,382.5L396.2,383.3L397.2,384.7L398.6,384.4L400.0,384.9L398.4,386.1L397.5,387.1L398.4,388.5L399.4,390.0L399.4,390.8L398.4,391.4L399.5,391.8L399.1,393.2L398.0,394.5L397.2,395.7L396.1,396.9L394.9,397.7L393.6,398.2L392.3,398.6L390.7,399.1L390.5,399.8L390.1,398.9L389.0,398.8L387.8,399.4L387.1,400.9L387.7,402.1L389.0,403.3L389.8,405.3L389.7,406.7L388.4,407.6L387.8,408.4L386.5,409.1L386.5,408.0L385.4,407.5L384.6,406.5L383.5,405.9L383.1,405.3L382.7,406.1L382.3,407.4L382.9,409.2L383.5,410.4L384.6,411.1L385.4,412.3L385.4,413.8L385.9,414.6L385.3,414.6L383.8,413.6L383.1,412.6L382.9,411.1L381.9,409.7L381.4,409.6L381.6,408.0L381.7,406.5L381.0,404.5L380.9,402.9L380.0,402.9L379.2,403.5L378.3,403.3L378.5,401.7L377.7,400.2L376.8,399.4L376.4,398.2L375.4,398.0L374.3,398.6L372.8,398.9L372.6,399.7L371.2,400.5L369.7,402.1L368.5,403.1L367.6,403.7L367.6,405.5L367.2,406.8L367.2,407.8L366.6,408.6L366.0,408.9L365.5,409.5L364.6,408.2L363.8,406.5L363.2,404.5L362.4,402.9L361.9,400.9L361.9,399.3L361.5,398.6L360.5,399.4L359.1,398.3L360.0,397.7L358.6,397.2L357.7,396.2L357.1,395.6L355.2,395.7L353.2,395.8L351.3,395.6L350.0,395.1L349.4,394.2L347.9,394.6L346.4,393.8L345.2,392.7L344.4,391.4L343.5,391.4L342.9,391.8L343.3,392.9L344.4,394.5L344.7,395.5L345.6,395.0L345.7,396.1L345.8,396.6L347.5,396.6L349.1,395.0L349.4,396.4L351.0,397.1L351.9,398.0L351.0,399.8L350.2,401.0L348.3,402.3L346.0,403.1L343.7,404.6L340.8,405.8L339.5,405.9L338.9,404.2L338.8,402.9L337.6,401.1L336.2,399.0L335.3,396.8L334.1,395.1L333.0,393.4L333.0,392.1L332.4,393.5L331.6,392.9L331.1,391.6L330.9,390.6L332.4,390.5L333.0,389.1L333.6,387.6L333.7,386.1L333.9,385.5L332.6,385.5L331.4,386.1L329.9,385.4L328.4,385.9L327.2,385.2L326.3,383.9L326.7,382.8L326.2,382.3L326.1,381.6L325.3,381.4L324.6,381.8L323.8,382.0L323.6,382.8L324.2,383.7L324.6,384.2L323.8,384.7L323.9,385.7L323.4,385.7L322.8,385.4L322.4,384.4L322.3,383.7L321.9,383.0L321.1,382.0L321.1,380.5L320.4,379.7L319.2,379.0L318.1,378.1L317.3,376.9L316.7,377.1L316.6,376.4L315.7,376.7L315.7,377.8L316.6,378.7L317.7,380.2L318.4,380.4L320.4,382.1L319.2,381.9L318.9,382.8L319.3,383.3L318.4,384.2L318.2,384.2L318.4,383.3L318.1,382.2L317.1,381.5L315.8,380.7L314.6,379.7L314.1,378.7L313.5,377.8L312.7,377.8L311.9,378.4L310.8,379.1L309.6,378.8L308.6,379.2L308.6,380.3L307.7,380.9L306.6,381.8L306.0,382.8L306.2,383.5L305.6,384.5L304.7,385.4L302.8,385.5L302.0,386.1L301.4,385.4L300.5,385.0ZM331.1,391.6L331.8,393.4L332.6,395.1L333.4,396.8L334.5,398.4L334.7,399.7L335.7,401.7L336.4,403.7L337.9,405.3L339.2,406.1L339.3,406.8L340.2,407.6L342.2,407.1L343.7,407.0L345.4,406.5L345.2,407.6L344.3,409.6L342.9,411.9L341.4,413.8L339.9,414.9L338.3,416.5L337.2,417.8L336.4,419.3L336.0,420.7L336.4,422.2L337.2,423.9L337.3,426.9L336.8,428.3L334.9,429.5L332.9,431.2L333.3,433.0L333.4,434.6L331.4,435.9L331.2,436.3L331.3,438.0L329.9,439.7L328.4,441.6L326.9,442.9L325.8,443.4L323.0,443.7L321.5,444.1L320.3,443.6L320.1,442.0L319.2,439.3L318.1,437.2L317.5,435.0L317.2,433.4L316.1,431.3L315.2,429.3L315.6,427.3L316.7,424.9L316.4,422.6L315.5,420.3L315.2,419.1L313.8,417.6L313.1,416.2L313.5,414.9L313.6,413.4L313.0,412.3L311.6,412.4L310.8,412.4L309.6,410.9L308.1,410.9L307.0,411.2L305.1,411.9L303.9,411.8L302.4,411.8L300.5,412.3L299.3,411.6L297.8,410.6L296.6,409.9L296.0,409.2L295.9,408.2L294.7,407.2L293.4,406.1L293.4,405.3L292.8,404.3L293.6,403.3L293.8,401.7L293.7,400.5L293.2,399.3L294.0,397.2L294.9,395.5L296.3,393.6L297.4,392.9L298.6,392.1L298.8,390.7L299.7,388.7L300.8,388.0L301.6,386.3L302.1,386.3L303.9,386.9L305.1,386.8L306.2,386.2L307.3,385.7L308.5,385.4L310.0,385.4L311.9,385.2L313.7,384.9L314.6,385.2L314.2,386.3L314.6,387.6L314.0,388.0L314.8,388.7L316.3,389.0L317.9,389.6L318.3,390.3L320.0,391.0L321.5,391.2L321.5,389.8L322.6,389.0L323.9,389.5L325.3,390.1L327.2,390.6L328.4,390.8L329.1,390.5L329.9,390.3L330.9,390.6ZM343.9,424.9L344.8,427.7L344.1,429.7L343.3,432.1L342.3,435.4L340.9,435.9L339.6,434.2L339.3,432.7L340.1,431.2L340.0,428.9L341.6,427.9L342.9,426.1ZM522.4,409.0L523.8,407.4L524.4,407.2L525.8,407.0L526.7,406.1L528.0,406.8L529.4,407.4L531.1,407.5L532.4,407.6L534.2,407.5L534.3,408.2L535.1,409.2L536.5,409.6L537.6,410.9L539.5,411.2L540.4,411.3L541.8,412.1L542.4,412.6L543.0,414.3L543.4,415.3L544.5,416.1L544.9,416.3L546.4,416.5L547.7,417.6L549.9,417.9L551.4,418.0L552.9,419.1L554.6,419.8L555.0,421.2L554.8,422.6L553.7,423.8L552.9,424.9L552.1,425.7L551.8,427.3L551.8,429.3L551.2,430.9L550.4,432.5L549.5,433.7L548.3,433.8L546.8,434.5L545.6,435.0L544.5,436.1L544.4,437.6L543.7,438.9L542.7,440.7L541.7,441.7L540.7,443.4L539.6,444.3L538.5,444.2L537.0,443.4L537.8,444.8L538.0,445.7L537.5,447.4L535.7,448.0L534.2,448.1L533.9,449.9L531.9,450.1L532.9,451.7L531.7,452.7L531.5,454.3L530.0,455.4L531.1,457.1L530.0,458.8L528.8,460.6L529.3,462.8L529.2,464.3L531.7,465.9L530.3,466.7L528.4,466.7L526.9,465.4L525.4,463.7L524.2,461.2L523.8,458.2L523.8,456.3L525.4,453.8L525.0,451.7L525.2,449.1L525.4,446.7L526.0,444.8L526.7,442.5L526.9,439.8L527.3,437.6L527.7,435.5L527.7,433.8L527.9,431.7L527.7,429.9L526.5,428.9L524.6,427.9L523.3,426.5L522.5,424.9L521.7,423.4L520.8,421.5L519.6,420.3L519.4,419.1L520.2,418.3L520.4,417.6L519.6,417.4L519.8,416.5L520.4,415.3L521.2,414.6L521.5,413.8L522.5,412.8L522.3,411.5L522.3,410.3L522.0,410.1ZM516.6,398.5L518.1,397.6L520.0,397.5L522.3,398.7L523.8,399.5L524.8,399.9L522.2,400.2L522.5,399.6L521.5,398.9L519.3,398.3L517.7,398.3ZM524.7,401.4L525.8,400.2L528.0,400.2L529.3,401.2L527.7,401.5L526.5,401.6ZM521.7,401.4L523.2,401.5L522.8,401.9L521.8,401.7ZM530.2,401.3L531.4,401.4L531.3,401.7L530.2,401.7ZM393.0,433.0L393.6,432.8L395.3,431.8L397.2,431.3L399.1,430.5L399.8,429.3L400.7,428.9L401.4,427.7L403.0,426.5L404.1,427.2L405.3,427.2L406.0,425.3L407.6,424.6L409.5,425.1L410.9,425.1L410.2,426.3L409.9,427.3L411.4,428.1L412.9,429.3L413.9,429.3L414.4,427.3L414.6,425.6L415.2,424.0L416.0,425.6L416.2,426.8L417.4,427.7L417.9,429.3L418.3,430.5L419.8,431.6L420.6,433.0L421.6,434.2L422.9,435.5L423.5,437.2L423.6,438.5L423.2,440.7L422.1,442.9L421.2,445.3L420.9,446.7L419.0,447.2L418.1,448.1L416.7,447.4L415.2,447.6L413.7,447.2L412.9,445.7L412.0,444.8L411.8,442.9L411.6,442.2L410.2,444.0L409.7,444.0L408.7,442.5L407.2,441.6L404.9,441.2L402.6,441.8L401.1,442.5L400.7,443.3L398.0,443.3L396.5,444.3L394.9,444.1L394.2,443.7L394.6,441.6L394.2,439.8L393.4,437.6L392.9,435.9ZM416.9,449.8L418.3,450.2L419.6,450.0L419.6,451.4L418.7,452.7L417.9,452.7L417.4,451.5ZM438.3,443.8L439.5,444.8L440.5,445.9L441.1,446.9L442.8,446.8L442.2,448.3L441.6,448.6L441.1,450.1L440.3,450.8L439.9,450.5L440.2,449.1L439.2,448.4L439.8,447.2L439.8,446.2L438.9,444.8ZM438.3,449.6L439.5,450.9L438.5,452.4L437.2,453.6L436.8,455.3L435.5,456.1L434.3,455.6L433.6,455.2L434.9,453.3L436.6,452.1L437.4,450.9ZM406.4,416.3L407.6,416.0L408.7,416.3L409.5,418.2L411.4,417.0L414.1,417.7L416.7,418.6L417.9,419.9L419.3,420.8L419.4,421.8L421.3,423.6L419.4,423.5L417.9,422.2L416.7,421.6L415.6,422.6L414.1,422.7L412.5,421.8L411.8,422.1L412.4,420.9L411.8,419.9L409.9,419.1L407.9,418.8L407.8,417.8ZM389.6,414.6L390.0,414.2L391.3,414.6L391.5,413.6L392.6,413.3L393.8,412.1L394.9,411.1L395.7,410.3L396.9,411.5L397.2,411.9L396.5,412.4L396.3,413.4L397.1,414.9L396.3,415.1L396.1,416.3L395.3,417.2L394.9,418.6L393.9,418.8L392.6,418.2L391.7,418.2L390.5,417.8L390.4,416.7L389.7,415.7ZM379.1,411.4L380.8,411.7L381.8,412.9L383.1,414.0L384.2,414.9L385.4,415.7L386.1,416.5L387.3,418.0L387.1,420.1L386.1,420.1L384.5,418.8L383.3,417.4L382.5,416.1L381.7,414.6L380.4,413.2ZM386.7,420.9L387.8,420.3L389.2,420.8L391.0,420.6L392.4,421.0L393.8,421.6L393.7,422.4L391.5,422.1L389.2,421.7L387.7,421.4ZM394.2,422.0L395.7,422.1L397.2,422.1L398.8,422.1L400.3,422.1L401.4,422.8L403.4,422.1L401.8,423.5L400.7,423.6L398.0,423.4L397.2,423.1L395.7,422.6L394.6,422.5ZM397.6,418.4L397.1,417.8L397.8,415.7L398.2,415.0L398.8,414.7L401.7,414.4L402.0,414.7L400.7,415.5L398.6,415.4L398.2,416.4L399.1,416.4L400.5,416.3L400.6,416.6L399.3,417.2L400.1,418.8L400.3,419.8L399.7,419.5L399.1,418.9L398.8,417.8L398.2,417.9L398.3,419.9L397.6,419.9ZM403.7,414.2L404.5,414.6L404.1,415.7L403.7,416.3L403.6,415.1ZM404.1,418.0L406.3,418.1L405.6,418.6L404.1,418.4ZM398.4,401.3L399.7,401.3L399.8,402.9L399.1,403.7L399.3,404.7L401.1,405.7L401.1,406.1L399.9,405.3L398.8,405.1L398.4,404.5L398.0,403.3ZM399.5,410.3L400.7,409.1L402.2,408.2L403.0,409.6L402.7,410.9L402.2,411.1L402.1,410.3L401.1,410.3L401.1,410.9ZM401.3,406.1L402.2,406.2L402.1,407.9L401.4,407.6ZM399.5,406.6L400.4,407.0L400.5,408.6L399.9,408.4L399.5,407.6ZM397.6,407.0L397.5,407.8L395.9,409.3L395.9,408.9L397.1,407.6ZM406.3,388.0L407.6,386.6L409.9,386.4L410.9,384.9L412.2,384.7L413.1,383.3L413.3,381.8L414.3,380.8L414.4,381.8L414.8,382.8L414.1,384.2L414.1,385.7L413.7,386.8L413.1,387.1L412.4,387.4L411.0,387.5L410.9,387.7L410.1,388.5L409.5,387.7L408.3,387.7L407.2,388.1ZM413.3,380.7L413.5,379.0L414.5,376.6L415.6,377.8L417.4,378.1L417.5,378.9L415.8,380.2L414.4,379.7L414.1,380.4ZM405.5,388.7L406.4,388.1L407.2,388.9L406.6,390.4L405.9,390.6L405.8,389.4ZM407.6,388.0L409.1,387.7L409.1,388.4L407.9,389.1ZM414.8,366.0L415.6,367.7L415.8,370.2L416.4,372.2L415.6,372.6L416.0,375.1L415.2,376.0L414.8,374.3L414.8,371.4L414.6,369.0ZM399.1,395.7L399.5,396.1L399.0,397.8L398.6,398.5L398.1,397.6L398.6,396.4ZM389.4,400.6L390.7,400.0L391.1,400.5L390.4,401.4L389.4,401.3ZM367.2,408.2L368.0,408.6L368.8,409.9L368.4,410.9L367.6,411.1L367.2,409.9ZM531.9,354.8L528.0,353.7L525.0,350.6L521.9,350.2L525.4,348.8L525.8,344.9L522.7,340.7L520.4,339.6L516.6,339.6L513.1,337.3L512.8,331.1L516.6,330.2L519.6,330.5L521.9,332.4L525.0,335.4L527.7,337.3L529.6,339.6L530.3,341.8L533.4,344.9L534.6,346.5L533.0,349.7L531.1,348.8L532.3,352.3ZM504.0,340.7L501.3,341.8L497.4,342.5L494.4,342.9L492.1,340.7L491.7,337.3L490.6,335.7L493.6,331.6L497.4,332.6L501.3,331.6L501.3,334.9L503.6,336.2ZM485.6,334.9L487.1,336.9L489.4,336.2L491.3,333.7L492.9,331.9L491.7,329.1L489.0,328.3L486.4,328.9L486.7,332.4ZM521.9,322.2L513.5,322.2L514.3,317.0L516.6,313.1L515.0,306.7L511.2,303.3L515.8,299.1L520.4,293.2L528.0,292.6L534.2,296.3L532.6,301.8L529.6,305.2L526.5,310.2L524.2,313.1L523.5,317.0ZM520.4,328.0L515.8,328.3L511.2,327.4L510.8,323.8L513.5,322.5L518.9,323.8L520.4,324.7ZM515.4,316.2L510.5,312.3L509.7,306.7L512.0,303.8L514.7,307.6ZM500.5,326.8L497.4,327.4L494.4,327.7L491.7,325.9L492.1,323.1L495.2,322.8L498.2,321.5L500.9,323.8ZM503.2,332.4L505.9,335.4L507.4,333.7L507.0,330.2L504.3,330.0ZM508.5,334.9L512.4,332.9L512.4,329.7L508.5,329.4ZM505.1,326.8L507.4,326.2L507.4,322.2L505.1,321.5L503.6,323.8ZM505.5,341.8L507.4,342.7L508.5,341.2L507.0,339.9ZM514.7,351.4L516.2,352.8L518.9,352.0L520.2,351.8L518.9,350.2L517.0,347.8L515.0,349.7ZM536.2,374.1L538.8,375.0L541.1,375.3L541.3,374.2L540.7,372.6L539.1,372.0L539.1,369.5L537.6,370.8L536.8,372.6ZM483.5,370.4L485.6,371.0L487.1,373.2L485.6,372.7ZM479.9,366.3L480.8,366.4L481.2,368.6L480.2,367.7ZM532.3,371.5L534.3,372.5L533.4,372.3ZM345.8,336.2L346.7,332.4L348.7,326.8L352.1,322.8L356.7,320.5L359.0,322.2L355.9,325.3L352.1,328.3L350.6,332.4L349.8,336.2L350.2,338.0L348.3,338.0ZM314.6,313.9L317.3,319.5L319.2,321.8L320.7,317.0L322.6,313.9L320.0,309.8L316.9,309.8ZM320.4,308.0L323.8,311.9L326.9,308.9L323.8,306.7ZM379.6,313.1L382.7,317.0L386.5,315.1L385.8,311.1L381.2,303.3L378.9,304.3ZM411.0,325.9L412.5,327.7L416.4,326.8L420.9,326.8L419.4,323.8L414.8,323.8ZM414.1,330.8L416.0,331.6L414.8,330.0ZM442.8,337.3L444.7,337.8L445.8,336.6L443.9,336.2ZM342.2,307.6L346.0,308.9L350.6,308.0L353.6,305.2L349.8,301.8L344.4,304.3ZM343.3,341.2L344.4,341.8L344.1,342.5L343.3,342.2ZM315.8,384.2L318.1,384.0L317.8,385.5L315.8,384.6ZM312.5,381.3L313.6,381.3L313.5,383.1L312.7,383.3ZM312.8,379.6L313.5,379.3L313.4,380.7L312.9,380.6ZM324.2,386.5L326.3,386.8L326.2,387.1L324.2,386.9ZM330.9,387.1L332.7,386.4L332.2,387.2L331.1,387.5ZM308.0,382.7L308.8,382.4L308.6,383.0ZM314.6,364.2L315.8,363.6L315.8,365.1L314.8,365.0ZM320.1,361.9L320.7,361.1L320.6,362.1ZM462.3,399.9L463.0,400.2L463.0,400.6L462.5,401.0L462.3,400.5ZM460.6,398.8L461.0,399.0L460.7,399.0ZM461.7,399.3L462.3,399.4L462.0,399.6ZM459.4,398.3L459.7,398.3L459.6,398.5ZM534.9,461.7L537.2,461.7L536.8,462.7L534.9,462.4ZM347.1,406.0L347.9,406.0L347.5,406.2ZM431.7,431.4L434.0,433.2L433.6,433.3L431.6,431.6ZM419.8,419.9L422.5,418.9L422.7,419.5L420.9,420.5L419.8,420.3ZM425.5,421.1L428.6,422.6L429.7,423.6L428.2,423.0ZM441.8,429.2L442.8,429.3L442.8,429.9L441.8,429.8ZM433.6,427.3L434.2,427.7L434.2,428.1L433.7,427.8ZM358.8,458.8L360.1,458.9L359.8,459.6L359.0,459.5ZM552.5,465.0L554.1,465.4L554.1,466.0L552.5,465.4ZM417.9,377.6L419.8,376.5L419.4,376.9L417.9,377.9ZM463.8,361.1L465.1,361.2L464.9,361.9L463.6,362.4ZM450.2,352.1L452.3,352.8L451.5,353.2ZM453.8,357.7L454.8,357.7L454.5,358.3ZM488.3,323.8L491.3,322.2L492.9,319.5L490.6,319.5ZM502.0,318.8L505.9,317.7L505.1,313.9L502.0,315.1ZM456.5,365.2L454.2,366.4L452.3,367.5L449.6,368.3L446.6,368.9L444.3,369.1L444.3,369.3L446.6,369.2L449.6,368.7L452.3,367.8L454.2,366.8L456.5,365.6ZM453.1,367.1L454.4,366.4L454.0,367.2ZM377.0,405.3L377.3,405.4L377.2,406.8L377.0,406.6ZM336.2,420.1L336.4,420.3L336.3,420.6ZM402.7,388.6L403.3,388.5L403.0,388.7ZM348.5,432.1L348.9,432.2L348.7,432.5ZM350.1,431.3L350.4,431.5L350.2,431.7Z" fill="#e4e4e4"/><path d="M327.6,380.7L327.8,378.9L328.8,377.1L329.8,375.4L331.4,376.0L331.1,376.6L331.9,377.6L333.3,377.1L334.2,376.7L333.0,376.0L334.9,374.9L336.2,374.6L335.3,376.0L334.7,376.7L335.7,377.8L336.8,378.7L338.0,380.2L337.8,380.9L336.0,381.3L334.1,380.9L333.0,380.2L331.4,380.2L330.3,381.1L328.5,381.1ZM342.2,376.5L344.1,375.4L345.6,374.9L346.7,375.4L346.7,376.7L345.2,377.6L344.8,378.7L346.4,379.7L346.5,380.9L347.5,381.6L346.7,382.8L347.5,384.7L346.0,385.4L344.4,384.8L343.7,383.7L343.9,382.0L344.7,381.9L343.3,380.4L342.5,379.2L342.2,377.6Z" fill="#fff"/><path d="M511.1,404.5L511.1,403.9L511.4,403.2L512.4,403.2L512.0,402.3L512.0,401.9L513.4,401.9L513.4,403.4L514.1,403.5M513.4,401.9L514.1,401.3M512.7,405.1L513.3,404.6L513.4,404.1L514.1,403.5M513.3,404.6L514.4,405.4M514.8,405.7L515.8,405.0L516.6,404.5L518.0,404.1M516.0,407.2L517.6,407.3M518.2,409.5L518.4,408.3M527.1,406.6L526.1,407.2L525.8,408.6L526.2,409.3L526.5,410.2L528.0,410.3L530.0,410.9L529.7,412.6L530.3,414.2L530.4,414.8M530.4,414.8L531.5,415.1L532.6,414.2L532.6,412.6L533.6,412.8L534.9,412.3L535.2,411.7M535.2,411.7L534.7,411.1L535.7,409.6L535.7,409.2M535.2,411.7L535.7,411.9L535.9,413.0L536.1,414.3L536.8,414.7L538.0,414.2L538.4,414.2M537.8,411.1L537.6,411.9L537.2,412.6L538.4,414.2M540.3,411.3L539.9,412.3L539.9,413.9M538.4,414.2L539.9,413.9L541.4,413.9L542.0,412.5M530.4,414.8L530.3,414.3L528.2,414.4L528.4,415.2L528.0,415.3L528.4,416.5L528.1,418.9M528.1,418.9L527.5,418.6L526.1,417.5L525.4,416.7L524.0,415.8M524.0,415.8L523.1,415.5L522.3,415.2L521.3,414.6M524.0,415.8L523.8,416.8L523.1,417.7L521.9,418.2L521.5,419.1L520.8,419.5L520.2,419.0L520.2,418.3M528.1,418.9L525.9,419.6L525.1,421.3L525.8,422.9L527.7,423.0L527.6,424.2L528.4,424.2M528.4,424.2L529.0,425.3L528.8,426.9L528.6,427.7L528.8,428.5L528.4,429.3L527.7,429.9M528.4,424.2L529.6,423.9L531.6,423.2L531.6,424.6L532.6,425.3L534.2,426.1L535.3,426.4L535.5,428.3L536.9,428.3L537.6,429.7L537.2,431.2L537.1,431.5M537.1,431.5L536.5,430.8L534.3,431.0L533.7,433.1M533.7,433.1L532.4,433.6L531.7,433.0L530.9,432.8L530.2,433.6M530.2,433.6L529.4,432.4L529.2,430.9L528.8,430.4L528.4,429.3M530.2,433.6L529.3,435.0L529.4,436.7L528.4,438.5L528.0,440.2L528.0,442.5L527.8,444.8L527.3,446.7L526.9,449.1L526.7,451.7L526.9,454.3L526.5,457.1L525.8,459.4L526.3,461.2L526.9,462.4L528.8,462.7L529.3,462.9M529.1,463.3L529.1,466.2M537.1,431.5L537.4,433.0L538.9,433.2L539.1,434.5L540.1,434.6L539.8,436.0M533.7,433.1L534.9,434.5L536.8,435.5L537.5,435.8L536.8,437.3L538.4,437.5L539.0,437.5L539.8,436.0M539.8,436.0L540.4,436.9L540.5,437.3L538.9,438.4L537.5,440.0M537.5,440.0L538.8,440.5L540.3,441.4L540.8,442.3L540.7,443.1M537.5,440.0L537.1,442.0L536.9,443.3M526.7,400.3L526.7,401.6M299.5,380.3L299.9,380.2L301.2,380.3L301.5,380.7L300.9,381.3L300.8,382.6L300.5,382.7L300.8,384.0L300.5,385.0M304.8,378.8L306.7,379.5L308.6,379.8M308.1,370.1L309.4,371.4L309.9,371.4L310.9,372.0L312.5,372.6L312.0,374.2L310.9,375.6L311.6,376.1L311.4,377.0L311.6,377.9L311.9,378.4M308.8,369.7L310.0,369.7L310.8,370.2L310.8,370.4L310.9,371.3L310.9,372.0M310.8,370.2L310.8,369.2L311.6,368.7L311.7,367.3M312.8,365.2L313.8,365.4M317.1,366.6L317.4,368.3L317.7,370.2L315.5,371.0L316.8,372.8L316.1,374.3L314.2,374.3L313.5,374.3L312.0,374.2M311.6,376.1L312.7,375.6L313.1,376.2L314.2,375.1L313.5,374.3M314.2,375.1L315.5,374.9L316.7,375.4L316.6,376.4M316.8,372.8L317.7,372.6L319.2,373.0L319.3,373.7L318.6,375.0L316.7,375.4M317.7,370.2L319.1,370.9L320.6,372.0L319.2,373.0M320.6,372.0L321.5,372.3L323.5,372.5M319.3,373.7L320.6,374.0L321.9,373.2L323.2,373.3M323.5,372.5L324.6,370.7L324.3,369.6L324.3,368.2L324.5,366.6L324.2,366.4M321.3,365.9L323.6,365.9L324.2,366.4M322.3,364.7L323.6,365.1L323.6,365.9M322.3,363.6L325.2,363.2L326.5,364.2M324.9,361.1L327.2,361.7M327.8,358.9L327.2,361.7L327.8,363.6L326.5,364.2L325.9,366.2L324.2,366.4M327.8,363.6L329.8,364.3L329.9,365.5L331.2,367.2L330.2,368.8M324.3,369.6L327.0,369.5L329.5,369.8L330.2,368.8L332.2,368.6L333.4,370.9L335.3,371.5L336.9,371.9L336.6,373.8L335.4,374.8M323.5,372.5L323.2,373.3L323.7,373.7L325.2,374.1L326.5,373.4L327.8,376.5L328.9,376.7M326.5,373.4L328.5,373.7L329.2,375.5L327.8,376.5M323.7,373.7L322.4,375.9L321.7,375.9L320.6,376.1L318.6,375.0M321.7,375.9L322.6,377.3L323.6,377.9L325.3,378.5L326.9,378.0L328.1,378.5M323.6,377.9L323.3,379.9L323.7,380.9L325.6,381.1L326.3,380.5L327.6,380.2M326.3,380.5L326.1,381.6M321.5,382.6L322.3,381.4L323.7,380.9M321.0,380.3L322.0,380.3L322.3,381.4M316.6,376.5L317.9,376.5L318.6,375.0M320.6,376.1L320.7,377.2L321.0,378.7L320.4,379.7M318.3,376.9L318.4,378.1L319.7,379.3M321.0,378.7L321.8,379.4L322.0,380.3M321.8,379.4L322.8,379.9L323.3,379.9M314.8,359.5L315.8,357.2L315.5,355.6L315.5,353.2L316.9,350.6L317.7,347.4L318.8,344.9L320.1,342.9L321.9,341.8L324.2,342.5L325.9,341.8L326.5,339.9L328.3,341.6L329.8,340.1M321.9,341.8L324.3,344.1L324.6,348.2M328.3,341.6L328.0,343.5L329.1,344.5L328.5,346.3L329.2,348.4L329.0,350.0L330.3,353.3L327.5,357.2M300.5,366.3L301.4,366.3L300.6,365.1M336.8,378.7L339.1,379.6L341.8,380.4L343.4,380.4M337.9,380.7L339.5,381.2L340.6,380.9L341.8,380.4M339.5,381.2L340.5,382.6M340.6,380.9L341.8,383.4M343.6,383.8L342.9,382.7L341.8,383.4L340.5,382.6L339.9,382.9L340.2,384.2L340.5,385.0M334.3,385.4L335.3,385.4L338.6,385.0L340.5,385.0M340.5,385.0L341.4,386.3L340.9,388.0L341.4,388.9L342.7,390.3L343.3,391.6M338.6,385.0L337.7,387.4L335.9,388.6L336.2,389.7L337.1,389.9L338.3,390.6L340.4,392.3L341.8,392.4L342.7,391.6L342.9,391.6M335.9,388.6L334.4,389.6L333.6,389.2M336.2,389.7L334.5,390.3L335.3,391.2L334.9,391.6L333.7,392.3L333.0,392.2M332.4,390.5L332.9,392.1M333.4,388.8L333.4,389.5L333.4,390.4L333.0,392.1M333.1,388.8L333.7,388.7L334.0,387.6L333.7,387.5M341.8,392.4L342.5,392.9L343.2,392.9M338.9,403.0L339.3,402.2L340.2,402.2L342.2,402.5L343.3,401.5L346.0,400.9L348.3,400.1L348.7,398.4L348.4,397.9L346.4,397.7L345.7,396.6M346.0,400.9L346.8,402.7M348.4,397.9L348.9,396.6L349.3,396.0L349.1,395.1M345.1,396.2L345.4,396.3M343.7,375.6L342.2,373.7L341.8,373.2L342.2,371.6L343.3,371.4L344.8,369.5L346.7,369.8L348.3,370.6L350.6,370.2L352.9,370.4L353.2,369.8L352.1,367.1L353.2,366.4L355.9,365.8L359.0,364.7L360.5,365.1L360.4,366.2L362.4,366.4L364.7,366.0L365.1,367.3L367.4,370.4L369.7,370.2L371.6,371.9L373.0,372.5M373.0,372.5L374.7,371.6L376.6,370.6L378.9,371.4L381.2,370.8L381.4,369.0L381.9,369.0L384.2,369.7L384.4,370.8L386.5,370.9L388.1,371.8L390.4,372.3L392.6,371.6L395.5,371.6M395.5,371.6L396.5,372.0L397.6,370.8L398.5,368.3L398.6,367.3L400.7,367.1L402.6,368.0L403.7,371.6L406.0,372.8L406.4,374.1L409.2,373.3L408.3,376.5L406.8,377.1L406.4,379.2L406.1,379.8M373.0,372.5L373.5,373.2L375.4,374.3L375.8,376.9L378.9,377.8L379.6,379.4L382.7,379.6L386.5,380.5L390.4,379.5L391.7,378.5L394.2,376.6L395.7,375.4L397.8,375.2L397.8,374.6L396.5,373.7L394.9,372.8L394.6,373.8L395.5,371.6M373.0,372.5L371.8,373.3L371.6,374.9L369.7,374.6L369.2,376.5L367.4,377.1L367.6,379.4L367.6,380.0M367.6,380.0L365.9,381.3L364.7,381.8L362.7,382.7L363.5,384.9M363.5,384.9L364.0,385.4L364.3,386.3L365.9,386.6L366.6,387.7L366.5,389.4L366.4,390.5L367.0,390.7L368.2,391.4M368.2,391.4L369.7,392.2L372.0,393.4L373.6,393.5L374.1,393.4L376.3,393.5L376.7,393.5L378.1,392.3L379.6,392.2L380.6,393.1M380.6,393.1L381.7,393.8L381.7,395.3L380.9,396.8L381.8,396.8L382.1,398.3L382.9,398.9L383.6,399.1L384.1,398.1L384.4,398.0L385.8,397.8L386.8,397.4L387.8,397.8L387.8,398.4L388.8,398.9M358.4,397.0L360.5,396.3L359.8,394.7L360.0,393.4L361.7,392.5L362.7,391.6L363.3,390.3L363.3,389.1L362.8,388.2L363.2,387.4L365.1,387.1L365.7,386.6M367.5,391.4L367.5,392.7L369.7,393.9L371.2,394.4L373.6,394.7L373.6,393.5M373.6,394.7L374.1,394.8L374.3,395.7L373.7,396.2L374.1,397.4L374.3,398.6M374.9,395.1L374.9,395.7L376.9,395.9L376.0,396.7L376.0,397.4L376.8,397.0L377.0,399.0L376.8,399.4M377.0,398.4L377.6,397.6L377.6,396.8L378.6,395.5L379.0,394.6L380.4,393.6L380.6,393.1M374.1,394.1L374.9,394.5L376.7,394.3L376.7,393.5M363.5,384.9L362.4,385.4L360.9,386.1L360.5,387.6L359.8,388.7L359.2,389.9L357.1,391.6L356.9,391.8L354.0,392.2L352.8,391.8M352.8,391.8L354.2,394.1L354.5,394.6L353.3,395.8M352.8,391.8L353.5,390.7L352.7,390.3L352.5,388.3L353.0,386.5L352.1,385.2L349.8,384.0L348.1,384.8L347.4,384.9M346.4,380.4L347.5,379.9L348.7,380.9L349.0,380.9L349.0,377.1L351.0,376.4L352.9,377.8L353.6,378.7L355.8,378.5L356.8,379.2L356.7,380.3L357.2,381.1L358.2,381.3L358.7,381.7L359.8,380.9L360.5,379.9L362.4,379.8L362.4,379.2L363.6,379.3L365.1,379.3L366.8,379.4L367.6,380.0M349.0,380.9L349.8,380.9L351.0,379.5L352.1,380.0L352.2,380.8L353.6,381.2L354.0,382.3L355.5,383.4L357.1,384.8L358.2,385.2L359.4,384.6L360.7,383.8L361.0,385.4M357.1,384.8L358.2,384.0L358.1,382.8L359.0,382.1L360.1,382.1L360.5,379.9M360.1,382.3L362.7,382.7M382.8,399.8L381.2,400.3L380.8,401.3L381.6,402.5L381.3,403.9L382.1,405.7L382.4,406.7L381.7,407.9M383.6,399.1L382.8,399.8L383.1,400.5L383.6,400.5L383.5,401.9L384.3,401.5L385.3,401.4L386.3,402.1L386.3,403.0L387.0,403.8L386.7,404.6L385.0,404.7L384.5,405.2L384.9,406.7M384.4,398.0L385.0,399.4L386.2,399.8L385.8,400.5L386.7,401.3L387.8,402.9L388.4,404.1L388.4,404.5L388.4,406.1L387.3,406.7L387.1,407.2L386.1,407.7M386.7,404.6L388.4,404.5M382.8,410.8L383.5,411.3L384.3,410.9M390.0,414.2L390.7,415.0L391.9,414.6L393.4,414.6L394.2,413.8L394.6,412.4L396.1,412.5M414.1,417.7L414.1,422.7M403.1,384.4L404.4,383.6M401.3,382.3L402.6,381.3L404.1,380.7L405.4,379.7L406.1,379.8M401.1,422.9L401.8,422.6L402.0,423.0M299.5,393.6L299.5,395.1L297.0,395.1L297.0,397.2L296.3,397.6L296.3,399.0L293.2,399.0M299.5,393.6L302.5,395.9L307.1,399.2L308.7,400.9L309.4,400.8L309.4,402.9L309.0,403.7L306.4,404.1L305.8,404.1L304.7,404.7L303.9,405.1L302.9,405.5L302.0,406.6L302.0,407.7L300.1,407.9L299.9,407.2L298.4,406.3L297.4,406.1M302.5,395.9L301.2,395.9L302.0,402.9L302.1,403.7L297.0,403.8L296.9,404.3M308.7,400.9L310.8,400.5L315.4,397.2L313.8,396.4L313.5,394.7L313.8,391.4M315.4,397.2L317.1,397.9L317.7,397.6L324.6,400.5M315.4,397.2L318.1,399.3L318.1,402.5L316.5,404.5L316.5,405.1L316.9,405.4M309.3,405.3L309.0,406.7L307.9,406.1L306.9,407.2L306.0,407.2M306.9,407.2L307.5,408.8L307.4,410.9M308.3,408.8L308.3,410.8M304.1,407.2L302.0,407.7M304.1,408.4L303.8,410.3L303.9,411.8L303.8,411.8M300.5,412.3L299.7,410.7L299.9,409.9L298.9,409.3L298.3,409.2L297.4,410.3L297.4,410.4M298.3,409.2L298.0,408.6L296.6,408.1L296.0,408.8M300.1,407.9L299.9,409.9M295.7,406.0L295.7,406.7L294.7,407.2M316.9,405.4L317.7,406.4L318.1,408.0L316.9,408.0L318.1,409.9L317.3,411.1L317.2,412.1L316.3,414.0L313.7,413.9M318.1,409.9L320.4,409.6L323.7,407.2L324.2,408.8M323.4,412.6L324.6,411.9L327.2,411.8M318.6,417.2L317.2,417.2L317.2,414.0L316.3,414.0M314.8,417.5L314.8,414.9L313.7,414.9M324.6,408.8L325.7,407.8M327.2,411.8L328.8,412.3L329.8,413.0L332.2,412.5L333.2,411.6L332.2,409.7L331.4,409.6L332.2,408.4M333.7,412.3L333.2,411.6M338.3,412.7L339.1,412.2L340.6,411.9L342.9,409.6L342.2,409.6L339.9,408.8L339.1,407.2L339.3,406.8M334.1,404.1L335.2,404.2L337.0,404.5L338.6,406.1L339.2,406.1M338.6,406.1L338.2,407.2L339.1,407.2M315.2,429.1L316.9,429.2L320.4,429.2L322.3,429.6L322.3,429.9L322.3,433.0L321.5,433.0L321.5,438.4L319.6,438.6L318.8,438.5" fill="none" stroke="#f4f4f4" stroke-width="0.5"/><path d="M473.7,340.5L475.3,340.7L477.6,342.0L479.1,340.7L482.1,339.4L483.7,338.7L486.0,341.0L488.3,340.1L491.3,341.8L493.6,342.0L495.9,344.3L498.2,344.3L499.0,343.1L500.9,342.7L503.6,344.3L506.2,344.3L507.0,342.9L508.2,343.5L507.8,341.8L508.5,339.6L507.8,336.6L509.3,334.9L510.8,337.3L511.2,340.3L512.4,341.8L512.8,342.9L514.3,342.2L514.3,344.9L515.8,343.9L516.2,340.1L518.9,340.5L519.4,342.9L518.5,346.9L516.2,347.3L515.0,349.1L513.5,351.4L512.0,351.8L510.5,354.0L509.7,356.1L509.2,358.0L509.2,359.8L510.5,359.9L510.8,362.4L512.8,362.4L515.0,363.8L516.6,364.7L518.6,365.0L518.7,367.7L519.6,369.0L520.4,370.0L521.2,369.6L521.4,368.3L521.2,366.4L520.8,365.5L522.7,364.2L523.1,362.4L521.5,359.8L522.3,358.0L521.9,354.3L523.8,354.3L525.4,354.8L526.5,355.9L528.0,356.4L528.4,359.5L530.0,360.5L531.5,358.7L532.3,357.4L533.4,360.2L534.6,362.8L535.7,364.7L537.2,365.4L538.0,366.8L538.9,368.7L538.0,369.6L536.5,371.0L534.6,371.3L532.6,371.0L530.7,371.2L529.2,372.6L528.0,374.3L527.3,375.1L528.8,373.4L530.3,372.6L531.9,372.3L532.4,372.8L531.9,373.7L531.1,373.7L531.9,374.9L532.3,375.8L533.4,376.2L534.6,376.3L535.7,376.0L535.7,374.9L534.9,376.7L533.0,377.5L531.5,378.7L531.0,378.1L531.9,377.1L532.3,376.7L531.5,376.9L530.3,377.1L530.3,377.3L530.0,376.9L529.7,376.3L529.7,374.8L529.4,374.5L528.7,374.4L528.0,375.2L527.8,375.8L527.4,376.7L526.9,377.1L524.2,377.1L523.2,377.9L522.8,378.6L521.4,378.6L521.1,378.9L521.2,379.3L519.6,380.0L518.0,380.1L518.6,379.2L518.5,376.7L517.7,376.0L517.0,375.4L516.7,375.0L514.0,373.4L513.1,373.7L511.6,373.6L510.5,373.0L509.2,372.9L509.1,372.2L508.8,372.6L487.3,372.6L486.2,373.3L487.1,372.2L486.0,371.0L484.4,370.2L483.7,368.3L482.5,367.1L481.9,365.8L482.1,365.1L482.1,363.8L481.0,363.1L479.5,360.2L478.3,358.7L476.4,359.5L475.3,358.0L473.7,357.5ZM531.9,354.8L528.0,353.7L525.0,350.6L521.9,350.2L525.4,348.8L525.8,344.9L522.7,340.7L520.4,339.6L516.6,339.6L513.1,337.3L512.8,331.1L516.6,330.2L519.6,330.5L521.9,332.4L525.0,335.4L527.7,337.3L529.6,339.6L530.3,341.8L533.4,344.9L534.6,346.5L533.0,349.7L531.1,348.8L532.3,352.3ZM504.0,340.7L501.3,341.8L497.4,342.5L494.4,342.9L492.1,340.7L491.7,337.3L490.6,335.7L493.6,331.6L497.4,332.6L501.3,331.6L501.3,334.9L503.6,336.2ZM485.6,334.9L487.1,336.9L489.4,336.2L491.3,333.7L492.9,331.9L491.7,329.1L489.0,328.3L486.4,328.9L486.7,332.4ZM521.9,322.2L513.5,322.2L514.3,317.0L516.6,313.1L515.0,306.7L511.2,303.3L515.8,299.1L520.4,293.2L528.0,292.6L534.2,296.3L532.6,301.8L529.6,305.2L526.5,310.2L524.2,313.1L523.5,317.0ZM520.4,328.0L515.8,328.3L511.2,327.4L510.8,323.8L513.5,322.5L518.9,323.8L520.4,324.7ZM515.4,316.2L510.5,312.3L509.7,306.7L512.0,303.8L514.7,307.6ZM500.5,326.8L497.4,327.4L494.4,327.7L491.7,325.9L492.1,323.1L495.2,322.8L498.2,321.5L500.9,323.8ZM503.2,332.4L505.9,335.4L507.4,333.7L507.0,330.2L504.3,330.0ZM508.5,334.9L512.4,332.9L512.4,329.7L508.5,329.4ZM505.1,326.8L507.4,326.2L507.4,322.2L505.1,321.5L503.6,323.8ZM505.5,341.8L507.4,342.7L508.5,341.2L507.0,339.9ZM514.7,351.4L516.2,352.8L518.9,352.0L520.2,351.8L518.9,350.2L517.0,347.8L515.0,349.7ZM536.2,374.1L538.8,375.0L541.1,375.3L541.3,374.2L540.7,372.6L539.1,372.0L539.1,369.5L537.6,370.8L536.8,372.6ZM483.5,370.4L485.6,371.0L487.1,373.2L485.6,372.7ZM479.9,366.3L480.8,366.4L481.2,368.6L480.2,367.7ZM532.3,371.5L534.3,372.5L533.4,372.3ZM488.3,323.8L491.3,322.2L492.9,319.5L490.6,319.5ZM502.0,318.8L505.9,317.7L505.1,313.9L502.0,315.1ZM486.2,373.3L487.3,372.6L508.8,372.6L509.1,372.2L509.2,372.9L510.5,373.0L511.6,373.6L513.1,373.7L514.0,373.4L516.7,375.0L517.0,375.4L517.7,376.0L518.5,376.7L518.6,379.2L518.0,380.1L519.6,380.0L521.2,379.3L521.1,378.9L521.4,378.6L522.8,378.6L523.2,377.9L524.2,377.1L526.9,377.1L527.4,376.7L527.8,375.8L528.0,375.2L528.7,374.4L529.4,374.5L529.7,374.8L529.7,376.3L530.0,376.9L530.3,377.3L529.2,377.8L528.0,378.4L527.5,379.1L527.4,379.5L527.3,379.9L527.6,380.3L528.0,380.4L528.1,380.5L527.6,380.7L527.0,380.7L525.8,381.1L525.2,381.4L526.5,381.3L525.0,381.8L524.9,382.6L524.3,383.3L523.8,382.9L524.1,383.4L524.1,383.9L523.5,385.1L523.2,385.2L523.5,385.6L523.8,386.8L523.1,387.4L522.0,388.1L521.2,388.6L520.4,389.3L519.7,389.8L519.3,391.0L519.4,391.8L519.9,393.0L520.4,394.4L520.2,395.5L519.7,395.9L519.0,395.1L518.3,393.7L518.3,392.6L517.6,391.7L517.1,391.6L516.3,391.9L515.4,391.3L514.3,391.4L513.5,391.4L513.1,391.5L513.4,392.4L512.4,392.3L511.4,392.1L510.2,391.8L509.2,392.2L508.2,392.9L507.2,393.6L507.2,395.1L505.8,394.7L505.5,393.8L504.9,393.1L504.3,392.2L503.3,391.8L502.7,392.5L501.7,392.0L501.4,391.1L500.1,390.1L498.8,390.0L498.8,390.5L496.6,390.5L493.8,389.4L492.0,389.4L491.9,388.8L491.0,388.2L490.9,388.0L490.2,387.6L489.4,387.6L489.3,386.9L488.3,385.6L487.9,384.4L487.5,384.2L486.9,383.0L486.4,381.9L486.7,380.7L486.4,379.4L486.7,378.1L486.8,375.8L486.7,375.2ZM473.7,340.5L473.7,357.5L475.3,358.0L476.4,359.5L478.3,358.7L479.5,360.2L481.0,363.1L482.1,363.8L482.1,365.1L481.0,365.1L479.5,363.8L478.3,361.7L477.2,360.7L476.0,359.5L474.5,358.4L473.0,358.0L471.4,358.0L469.9,356.7L468.4,357.2L467.2,358.4L465.7,359.2L465.3,357.2L466.9,356.1L465.7,356.4L464.2,358.7L463.4,360.2L461.9,361.9L460.3,363.8L458.4,364.8L456.5,365.5L455.8,365.8L457.3,364.2L458.8,363.8L460.3,361.7L461.1,359.9L460.0,360.2L458.1,359.9L457.7,358.0L455.8,357.2L454.6,355.6L455.4,353.7L456.9,352.8L458.4,352.1L458.4,350.6L456.5,350.6L454.2,350.2L453.1,348.6L454.2,347.4L456.1,346.9L458.1,347.3L456.5,345.9L456.1,344.5L454.2,343.1L455.4,341.8L456.9,340.1L459.2,338.3L461.9,336.6L464.6,337.6L466.9,338.5L469.9,339.2L472.2,339.4ZM462.3,399.9L463.0,400.2L463.0,400.6L462.5,401.0L462.3,400.5ZM460.6,398.8L461.0,399.0L460.7,399.0ZM461.7,399.3L462.3,399.4L462.0,399.6ZM459.4,398.3L459.7,398.3L459.6,398.5ZM463.8,361.1L465.1,361.2L464.9,361.9L463.6,362.4ZM450.2,352.1L452.3,352.8L451.5,353.2ZM453.8,357.7L454.8,357.7L454.5,358.3ZM453.1,367.1L454.4,366.4L454.0,367.2ZM456.5,365.2L454.2,366.4L452.3,367.5L449.6,368.3L446.6,368.9L444.3,369.1L444.3,369.3L446.6,369.2L449.6,368.7L452.3,367.8L454.2,366.8L456.5,365.6ZM393.0,433.0L393.6,432.8L395.3,431.8L397.2,431.3L399.1,430.5L399.8,429.3L400.7,428.9L401.4,427.7L403.0,426.5L404.1,427.2L405.3,427.2L406.0,425.3L407.6,424.6L409.5,425.1L410.9,425.1L410.2,426.3L409.9,427.3L411.4,428.1L412.9,429.3L413.9,429.3L414.4,427.3L414.6,425.6L415.2,424.0L416.0,425.6L416.2,426.8L417.4,427.7L417.9,429.3L418.3,430.5L419.8,431.6L420.6,433.0L421.6,434.2L422.9,435.5L423.5,437.2L423.6,438.5L423.2,440.7L422.1,442.9L421.2,445.3L420.9,446.7L419.0,447.2L418.1,448.1L416.7,447.4L415.2,447.6L413.7,447.2L412.9,445.7L412.0,444.8L411.8,442.9L411.6,442.2L410.2,444.0L409.7,444.0L408.7,442.5L407.2,441.6L404.9,441.2L402.6,441.8L401.1,442.5L400.7,443.3L398.0,443.3L396.5,444.3L394.9,444.1L394.2,443.7L394.6,441.6L394.2,439.8L393.4,437.6L392.9,435.9ZM416.9,449.8L418.3,450.2L419.6,450.0L419.6,451.4L418.7,452.7L417.9,452.7L417.4,451.5ZM438.3,443.8L439.5,444.8L440.5,445.9L441.1,446.9L442.8,446.8L442.2,448.3L441.6,448.6L441.1,450.1L440.3,450.8L439.9,450.5L440.2,449.1L439.2,448.4L439.8,447.2L439.8,446.2L438.9,444.8ZM438.3,449.6L439.5,450.9L438.5,452.4L437.2,453.6L436.8,455.3L435.5,456.1L434.3,455.6L433.6,455.2L434.9,453.3L436.6,452.1L437.4,450.9ZM406.3,388.0L407.6,386.6L409.9,386.4L410.9,384.9L412.2,384.7L413.1,383.3L413.3,381.8L414.3,380.8L414.4,381.8L414.8,382.8L414.1,384.2L414.1,385.7L413.7,386.8L413.1,387.1L412.4,387.4L411.0,387.5L410.9,387.7L410.1,388.5L409.5,387.7L408.3,387.7L407.2,388.1ZM413.3,380.7L413.5,379.0L414.5,376.6L415.6,377.8L417.4,378.1L417.5,378.9L415.8,380.2L414.4,379.7L414.1,380.4ZM405.5,388.7L406.4,388.1L407.2,388.9L406.6,390.4L405.9,390.6L405.8,389.4ZM407.6,388.0L409.1,387.7L409.1,388.4L407.9,389.1ZM287.5,348.8L289.4,347.1L292.4,347.4L294.7,347.3L295.9,349.7L294.7,350.9L292.0,352.5L290.1,351.8L288.8,351.4L289.4,350.0L287.8,349.9L289.0,349.1ZM301.8,371.3L303.5,371.0L305.4,370.6L307.2,370.1L307.5,368.1L306.4,367.7L306.2,366.8L305.3,365.6L304.7,364.0L303.9,363.8L304.7,361.5L303.1,361.5L303.9,360.1L302.4,360.1L301.6,361.7L302.0,363.8L302.4,365.1L303.5,365.2L303.9,367.1L302.8,367.3L303.0,368.6L302.2,369.2L303.9,369.7L302.8,370.2ZM298.6,369.5L300.1,369.5L301.5,368.7L301.6,367.1L302.0,365.8L301.2,364.8L299.9,364.8L299.7,366.0L298.6,366.2L298.9,367.5L298.3,368.7ZM399.1,395.7L399.5,396.1L399.0,397.8L398.6,398.5L398.1,397.6L398.6,396.4ZM398.4,401.3L399.7,401.3L399.8,402.9L399.1,403.7L399.3,404.7L401.1,405.7L401.1,406.1L399.9,405.3L398.8,405.1L398.4,404.5L398.0,403.3ZM399.5,410.3L400.7,409.1L402.2,408.2L403.0,409.6L402.7,410.9L402.2,411.1L402.1,410.3L401.1,410.3L401.1,410.9ZM401.3,406.1L402.2,406.2L402.1,407.9L401.4,407.6ZM399.5,406.6L400.4,407.0L400.5,408.6L399.9,408.4L399.5,407.6ZM397.6,407.0L397.5,407.8L395.9,409.3L395.9,408.9L397.1,407.6ZM386.7,420.9L387.8,420.3L389.2,420.8L391.0,420.6L392.4,421.0L393.8,421.6L393.7,422.4L391.5,422.1L389.2,421.7L387.7,421.4ZM315.8,384.2L318.1,384.0L317.8,385.5L315.8,384.6ZM312.5,381.3L313.6,381.3L313.5,383.1L312.7,383.3ZM312.8,379.6L313.5,379.3L313.4,380.7L312.9,380.6ZM308.0,382.7L308.8,382.4L308.6,383.0ZM314.6,364.2L315.8,363.6L315.8,365.1L314.8,365.0ZM324.2,386.5L326.3,386.8L326.2,387.1L324.2,386.9ZM389.4,400.6L390.7,400.0L391.1,400.5L390.4,401.4L389.4,401.3ZM402.7,388.6L403.3,388.5L403.0,388.7Z" fill="#5f8cc0" stroke="#3d4a60" stroke-width="0.6" stroke-linejoin="round"/><path d="M358.4,397.0L358.6,397.2L360.0,397.7L359.1,398.3L360.5,399.4L361.5,398.6L361.9,399.3L361.9,400.9L362.4,402.9L363.2,404.5L363.8,406.5L364.6,408.2L365.5,409.5L366.0,408.9L366.6,408.6L367.2,407.8L367.2,406.8L367.6,405.5L367.6,403.7L368.5,403.1L369.7,402.1L371.2,400.5L372.6,399.7L372.8,398.9L374.3,398.6L375.4,398.0L376.4,398.2L376.8,399.4L377.0,398.4L377.6,397.6L377.6,396.8L378.6,395.5L379.0,394.6L380.4,393.6L380.6,393.1L379.6,392.2L378.1,392.3L376.7,393.5L376.3,393.5L374.1,393.4L373.6,393.5L372.0,393.4L369.7,392.2L368.2,391.4L367.0,390.7L366.4,390.5L366.5,389.4L366.6,387.7L365.9,386.6L365.7,386.6L365.1,387.1L363.2,387.4L362.8,388.2L363.3,389.1L363.3,390.3L362.7,391.6L361.7,392.5L360.0,393.4L359.8,394.7L360.5,396.3ZM401.3,382.3L399.5,381.8L398.9,383.4L399.4,381.4L397.6,382.5L396.2,383.3L397.2,384.7L398.6,384.4L400.0,384.9L398.4,386.1L397.5,387.1L398.4,388.5L399.4,390.0L399.4,390.8L398.4,391.4L399.5,391.8L399.1,393.2L398.0,394.5L397.2,395.7L396.1,396.9L394.9,397.7L393.6,398.2L392.3,398.6L390.7,399.1L390.5,399.8L390.1,398.9L389.0,398.8L387.8,398.4L387.8,397.8L386.8,397.4L385.8,397.8L384.4,398.0L384.1,398.1L383.6,399.1L382.9,398.9L382.1,398.3L381.8,396.8L380.9,396.8L381.7,395.3L381.7,393.8L380.6,393.1L381.9,392.5L381.6,390.7L380.8,389.4L383.5,388.9L383.1,387.6L384.6,386.1L383.5,384.7L381.2,383.3L378.1,382.8L377.3,381.8L379.6,379.4L382.7,379.6L386.5,380.5L390.4,379.5L391.7,378.5L394.2,376.6L395.7,375.4L397.8,375.2L397.8,374.6L396.5,373.7L394.9,372.8L394.6,373.8L395.5,371.6L396.5,372.0L397.6,370.8L398.5,368.3L398.6,367.3L400.7,367.1L402.6,368.0L403.7,371.6L406.0,372.8L406.4,374.1L409.2,373.3L408.3,376.5L406.8,377.1L406.4,379.2L406.1,379.8L405.4,379.7L404.1,380.7L402.6,381.3ZM401.3,382.3L402.6,381.3L404.1,380.7L405.4,379.7L406.1,379.8L405.4,381.3L403.7,382.5L404.4,383.7L405.2,385.2L405.1,386.6L404.5,387.3L403.0,387.6L402.9,386.1L403.2,385.2L401.8,384.4L402.0,382.8ZM304.8,378.8L305.2,377.6L305.3,376.0L304.5,374.6L302.6,373.7L302.7,373.0L305.0,372.9L304.8,371.8L306.4,371.9L307.4,370.8L308.1,370.1L309.0,369.3L309.8,367.7L311.2,367.1L312.7,366.7L312.8,364.4L312.5,362.4L314.2,361.4L314.2,363.8L313.7,365.1L314.6,366.4L316.5,365.9L317.1,366.6L318.8,365.8L320.4,365.5L321.3,365.9L323.6,365.9L324.2,366.4L324.5,366.6L324.3,368.2L324.3,369.6L324.6,370.7L323.5,372.5L323.2,373.3L323.7,373.7L322.4,375.9L321.7,375.9L320.6,376.1L320.7,377.2L321.0,378.7L320.4,379.7L319.2,379.0L318.1,378.1L317.3,376.9L316.7,377.1L316.6,376.4L315.7,376.7L315.7,377.8L316.6,378.7L317.7,380.2L318.4,380.4L320.4,382.1L319.2,381.9L318.9,382.8L319.3,383.3L318.4,384.2L318.2,384.2L318.4,383.3L318.1,382.2L317.1,381.5L315.8,380.7L314.6,379.7L314.1,378.7L313.5,377.8L312.7,377.8L311.9,378.4L310.8,379.1L309.6,378.8L308.6,379.2L308.6,379.8L306.7,379.5ZM314.8,360.2L314.3,359.0L313.1,360.2L311.6,360.9L310.4,359.6L310.0,357.2L310.0,354.8L311.6,353.2L313.8,351.4L315.4,348.8L316.5,344.9L318.1,342.9L320.0,340.3L322.3,339.2L325.9,337.1L328.0,337.3L329.9,339.0L329.1,340.3L328.3,341.6L326.5,339.9L325.9,341.8L324.2,342.5L324.3,344.1L324.6,348.2L323.2,348.4L322.5,350.6L320.4,353.2L319.4,355.6L319.6,357.2L320.7,358.3L319.2,359.9L318.8,362.4L318.4,363.5L317.1,364.4L316.1,364.6L315.8,363.1ZM323.4,358.0L326.1,357.5L326.1,356.4L323.8,356.4ZM333.1,365.1L334.1,362.7L335.7,362.7L337.0,364.4L335.9,365.8L334.1,365.6ZM328.8,358.6L329.8,358.6L329.8,357.5L328.8,357.5ZM343.3,368.3L343.7,365.8L346.0,365.1L347.1,367.1L346.0,369.2L344.1,369.5ZM351.0,367.1L351.3,363.1L353.2,362.4L354.4,365.1L353.6,368.0L352.1,368.6ZM363.6,378.9L364.0,376.2L366.6,375.6L367.8,377.3L367.6,379.4L365.1,379.3ZM338.3,396.4L339.9,393.8L342.9,393.1L344.4,394.5L344.7,395.5L345.7,396.1L345.8,396.6L347.5,396.6L349.1,395.0L349.4,396.4L348.9,396.6L348.4,397.9L346.0,397.9L342.9,400.1L340.6,399.7L339.1,398.4ZM336.2,399.0L335.3,396.8L336.8,396.4L337.9,398.4L337.6,400.5ZM342.2,392.5L343.1,391.6L343.3,392.9L342.5,392.9ZM332.4,390.5L333.0,389.1L333.2,388.7L333.4,389.5L333.3,390.5L333.0,392.0ZM327.2,381.7L329.1,381.9L329.5,381.1L328.0,380.6L327.2,381.1ZM326.5,384.2L328.0,385.2L328.4,383.7L326.9,383.0ZM329.9,383.3L331.8,383.3L331.8,381.7L329.9,381.7ZM328.8,385.9L331.1,386.0L331.1,384.9L328.9,384.8ZM333.0,385.6L334.5,385.4L335.3,384.2L333.7,383.7ZM323.6,377.9L325.3,378.5L326.9,378.0L328.1,378.5L328.2,378.1L328.9,376.7L327.8,376.5L326.5,373.4L325.2,374.1L323.7,373.7L322.4,375.9L322.6,377.3ZM323.4,379.9L324.6,379.9L324.6,379.0L323.5,379.0ZM324.2,359.2L326.1,358.6L327.6,358.6L327.2,361.7L324.9,361.1L324.9,360.5ZM328.8,371.4L330.3,371.4L330.3,369.8L328.8,369.8ZM330.9,387.1L332.7,386.4L332.2,387.2L331.1,387.5ZM329.5,391.9L330.5,391.9L330.5,391.1L329.5,391.1ZM382.8,399.8L381.2,400.3L380.8,401.3L381.6,402.5L381.3,403.9L382.1,405.7L382.4,406.7L381.7,407.9L381.4,409.6L381.9,409.7L382.9,411.1L383.1,412.6L383.8,413.6L385.3,414.6L385.9,414.6L385.4,413.8L385.4,412.3L384.6,411.1L383.5,410.4L382.9,409.2L382.3,407.4L382.7,406.1L383.1,405.3L383.5,405.9L384.6,406.5L385.4,407.5L386.5,408.0L386.5,409.1L387.8,408.4L388.4,407.6L389.7,406.7L389.8,405.3L389.0,403.3L387.7,402.1L387.1,400.9L387.8,399.4L389.0,398.8L387.8,398.4L387.8,397.8L386.8,397.4L385.8,397.8L384.4,398.0L385.0,399.4L386.2,399.8L385.8,400.5L386.7,401.3L386.3,402.1L385.3,401.4L384.3,401.5L383.5,401.9L383.6,400.5L383.1,400.5ZM378.3,403.3L379.2,403.5L380.0,402.9L380.9,402.9L380.8,401.3L379.6,400.5L378.5,401.7ZM379.1,411.4L380.8,411.7L381.8,412.9L383.1,414.0L384.2,414.9L383.3,416.1L382.5,416.1L381.7,414.6L380.4,413.2ZM385.4,417.2L386.1,416.5L387.3,418.0L387.1,420.1L386.1,420.1L384.8,418.8ZM390.0,414.2L391.3,414.6L391.5,413.6L392.6,413.3L393.8,412.1L394.9,411.1L395.7,410.3L396.9,411.5L397.2,411.9L396.5,412.4L396.1,412.5L394.6,412.4L394.2,413.8L393.4,414.6L391.9,414.6L390.7,415.0ZM396.3,413.4L397.1,414.9L396.3,415.1L396.1,416.3L395.3,417.2L394.2,416.5L394.6,414.9L395.3,413.6ZM397.6,418.4L398.2,417.9L398.3,419.9L397.6,419.9ZM393.8,421.9L394.7,422.0L394.6,422.5L393.8,422.3ZM500.9,398.9L500.9,399.8L501.8,400.9L503.6,401.7L505.1,402.5L507.0,403.4L508.2,402.5L507.9,400.5L507.2,399.3L506.8,398.0L506.9,396.4L505.5,393.8L504.3,394.2L503.6,395.9L502.0,396.8L501.3,398.0ZM492.0,389.4L492.6,390.9L493.5,392.2L494.2,393.4L494.5,391.8L493.9,390.7L493.8,389.4ZM494.2,393.4L493.6,393.6L494.8,394.5L495.8,395.9L497.2,397.2L497.5,397.7L497.8,397.2L497.1,396.4L496.3,394.7L495.3,393.4ZM514.3,398.8L515.2,399.0L514.8,400.1L514.4,401.3L513.4,401.8L513.3,400.5L512.5,399.1ZM504.3,392.2L505.5,393.8L505.8,394.7L504.7,395.9L504.0,394.2ZM493.8,389.4L496.6,390.5L498.4,390.5L498.4,393.1L498.0,394.7L496.8,393.5L495.7,392.1L495.2,390.6L493.8,390.0ZM511.1,404.5L512.7,405.1L513.3,404.6L513.4,404.1L514.1,403.5L513.4,403.4L513.4,401.9L512.0,401.9L512.0,402.3L512.4,403.2L511.4,403.2L511.1,403.9ZM516.0,407.2L517.6,407.3L518.4,408.3L518.2,409.5L517.6,408.9L516.6,408.2L516.0,407.6ZM518.2,409.5L519.3,409.9L520.2,410.1L520.4,409.3L521.0,408.9L521.8,409.4L522.0,410.1L522.4,409.0L521.5,408.4L520.6,408.4L519.6,408.9L518.6,408.6L518.4,408.3ZM520.4,415.3L521.5,415.5L522.1,416.8L521.5,418.4L522.3,420.3L523.1,422.6L523.8,424.6L524.6,426.1L524.2,427.8L523.3,426.5L522.5,424.9L521.7,423.4L520.8,421.5L519.6,420.3L519.4,419.1L520.2,418.3L520.4,417.6L519.6,417.4L519.8,416.5ZM522.5,412.8L523.8,413.4L525.0,412.6L525.4,411.5L524.2,410.3L523.1,409.9L522.3,410.3L522.3,411.5ZM525.1,421.3L525.8,422.9L527.7,423.0L527.6,424.2L528.4,424.2L530.3,423.6L528.0,422.2L525.9,421.2ZM525.4,424.9L527.3,424.9L527.7,426.9L526.1,427.3L525.4,426.1ZM532.6,426.9L534.9,426.2L535.5,428.3L536.9,428.3L537.6,429.7L537.1,431.5L534.3,431.0L533.0,430.5L532.3,428.9ZM528.4,426.9L530.0,425.7L530.3,428.5L529.2,429.3L528.4,428.9ZM553.3,419.4L554.6,419.8L555.0,421.2L554.8,422.6L553.7,423.8L552.9,424.9L552.1,425.7L551.8,427.3L551.8,429.3L551.2,430.9L550.4,432.5L549.5,433.7L548.3,433.8L546.8,434.5L545.6,435.0L544.5,436.1L544.4,437.6L543.7,438.9L542.7,440.7L541.7,441.7L540.7,443.1L540.8,442.3L540.3,441.4L538.8,440.5L537.5,440.0L538.9,438.4L540.5,437.3L539.8,436.0L540.1,434.6L541.1,433.4L542.6,431.3L543.0,430.5L545.3,428.1L546.4,426.9L546.4,424.2L548.3,423.4L550.2,422.6L552.1,421.5ZM544.7,427.7L545.4,427.7L545.4,428.2L544.7,428.2ZM537.1,435.3L538.4,435.0L539.1,435.9L538.0,436.7L537.2,436.3ZM531.5,439.8L534.2,439.8L535.3,442.0L536.8,443.2L537.8,444.8L538.0,445.7L537.5,447.4L535.7,448.0L534.2,448.1L533.0,446.2L533.0,444.3L531.9,444.3L531.5,441.6ZM526.9,446.2L528.8,446.2L529.2,448.6L526.9,449.6ZM527.7,433.8L529.4,433.8L529.3,436.3L528.4,438.5L528.0,440.2L526.9,439.8L527.3,437.6L527.7,435.5ZM526.7,442.5L528.0,442.5L527.8,444.8L527.3,446.7L525.4,446.7L526.0,444.8ZM525.2,449.1L526.7,449.4L526.7,451.7L525.0,451.7ZM320.1,442.0L320.3,443.6L321.5,444.1L323.0,443.7L325.8,443.4L326.9,442.9L328.4,441.6L329.9,439.7L331.3,438.0L331.4,437.1L329.9,437.4L328.8,438.7L328.7,439.3L327.8,440.3L326.5,441.1L324.9,441.6L323.0,442.3L321.5,441.7L320.7,441.1ZM327.1,435.7L328.2,435.7L328.2,436.9L327.1,436.9ZM327.2,426.9L328.8,426.9L328.8,428.1L327.2,428.1ZM324.6,420.7L326.1,420.7L326.1,422.0L324.6,422.0ZM334.1,416.5L334.7,416.5L334.7,416.9L334.1,416.9ZM305.8,411.5L306.4,411.3L306.4,411.0L305.8,411.1ZM308.3,410.8L309.3,410.9L309.3,410.5L308.3,410.4ZM311.2,412.3L311.9,412.3L311.9,411.6L311.2,411.6ZM292.4,392.7L293.9,392.9L294.4,393.2L294.4,393.6L293.4,393.4L292.4,392.9ZM295.1,392.8L295.9,392.3L295.6,393.2ZM367.2,408.2L368.0,408.6L368.8,409.9L368.4,410.9L367.6,411.1L367.2,409.9Z" fill="#5f8cc0" stroke="#3d4a60" stroke-width="0.6" stroke-linejoin="round"/><path d="M298.9,383.5L299.5,381.3L299.1,379.2L300.1,378.5L302.4,378.7L304.7,378.8L306.7,379.5L308.6,379.8L308.6,380.3L307.7,380.9L306.6,381.8L306.0,382.8L306.2,383.5L305.6,384.5L304.7,385.4L302.8,385.5L302.0,386.1L301.4,385.4L300.5,385.0L299.3,385.2ZM321.9,383.0L322.3,383.7L322.4,384.4L322.8,385.4L323.4,385.7L323.9,385.7L323.8,384.7L324.6,384.2L324.2,383.7L323.6,382.8L323.8,382.0L324.6,381.8L325.3,381.4L326.1,381.6L326.3,380.5L325.6,381.1L323.7,380.9L322.3,381.4L321.5,382.6ZM315.5,371.0L317.7,370.2L319.1,370.9L320.6,372.0L319.2,373.0L317.7,372.6L316.8,372.8Z" fill="#f3f4f6" stroke="#3b4a5c" stroke-width="0.6" stroke-linejoin="round"/><path d="M486.7,375.8L490.6,376.0L492.1,376.0M486.5,380.2L496.7,380.2M492.1,372.6L492.1,380.2M489.8,380.2L489.8,383.3L493.9,387.1L493.9,389.2M494.4,380.2L494.4,386.1M492.9,372.6L492.9,373.7L494.0,375.4L495.2,377.6L496.7,377.6L496.7,381.3L498.2,381.3M498.2,381.3L498.2,390.5M496.7,377.1L502.0,377.1M498.2,381.3L503.6,381.3M502.0,372.6L502.0,381.3M502.0,376.0L507.8,376.0M502.0,379.2L506.2,379.2L507.8,379.7M503.6,382.3L508.7,382.3M503.6,381.3L503.6,385.2M494.4,385.2L509.2,385.2M502.8,385.2L502.8,389.8L500.1,389.8M502.8,385.7L505.1,385.7L505.1,387.6L507.4,388.1L509.3,388.4M509.7,388.5L509.7,388.9L509.8,390.7L509.8,391.8M509.7,388.9L511.8,388.9M509.3,385.7L509.3,388.4M509.2,385.7L512.8,385.7M509.2,382.3L509.2,385.7M508.3,381.7L511.6,381.7M507.8,378.7L511.8,378.7M507.4,372.6L507.8,376.0L507.8,379.7L508.3,381.7L508.7,382.3M511.8,378.7L512.6,380.2L511.8,381.7L512.6,383.4L513.4,385.2L513.1,386.1L512.4,387.1L511.8,388.9L511.6,390.7L512.9,390.7L513.1,391.4M511.1,375.2L510.6,376.5L511.8,378.7M512.3,379.7L514.4,379.7M512.4,375.4L514.6,377.0M514.7,380.5L514.7,383.3L514.3,384.4M516.7,380.5L516.7,383.2M515.0,380.5L517.8,380.5M513.4,385.2L514.3,384.4L515.8,384.2L516.7,383.2L518.5,383.7L520.0,381.7L520.0,380.2M520.6,380.2L524.0,380.2L524.5,380.8M520.0,382.6L523.6,382.6L523.9,382.5M525.5,377.1L525.4,380.2L525.4,381.3M525.4,380.2L527.0,380.2L527.4,379.3M526.1,377.1L526.1,379.5L527.3,379.5M527.2,376.7L527.5,379.1M526.7,380.2L526.7,380.9M513.1,385.7L519.1,385.6L523.5,385.6M512.5,387.1L518.0,387.1M514.1,387.1L514.0,391.4M516.1,387.1L516.6,390.7M514.6,390.7L516.6,390.7L518.9,391.1L519.3,391.0M518.0,387.1L519.6,389.7M518.0,387.1L519.8,387.1L521.5,388.1M519.1,385.6L518.5,384.0M522.2,383.0L520.8,383.1L520.0,384.7L519.1,385.6M522.7,383.9L523.7,383.8L523.7,382.6M473.7,340.5L473.7,357.5M489.8,358.0L489.8,366.7L494.4,372.6M497.4,358.0L497.4,372.6M503.6,358.0L504.0,372.6M508.8,372.6L508.8,368.0L513.6,362.5M520.8,369.6L520.8,374.3L522.3,376.0L524.6,376.7M532.3,357.4L532.6,359.8L530.3,365.1L530.0,366.4L532.6,369.0L537.9,369.0L537.9,369.7M475.3,358.0L509.2,358.0M477.2,342.0L477.6,345.9L479.9,348.8L482.9,354.8L486.7,358.0M503.6,358.0L503.6,351.1L497.4,348.8L492.1,345.9L489.4,342.9M473.7,357.5L475.3,358.0L476.4,359.5L478.3,358.7L479.5,360.2L481.0,363.1L482.1,363.8L482.1,365.1M528.8,373.7L530.3,373.7L530.7,374.0L532.6,376.0M497.4,339.6L497.4,332.4M404.9,427.2L404.9,441.2M411.8,428.5L411.8,436.3M404.9,436.3L414.1,436.3M414.1,436.3L414.1,447.2M414.1,438.9L420.2,438.9L423.6,438.2M414.1,443.4L418.7,445.3L420.9,446.7M362.8,396.8L365.9,396.4L368.9,396.8L372.8,395.9M365.1,390.7L365.5,393.4L363.6,395.9L362.8,399.3L365.1,399.3L367.4,398.9L370.5,398.4L372.8,398.9M364.3,399.3L363.6,402.5L365.1,403.3L365.5,405.7L365.1,409.2M365.5,405.7L367.6,405.3M365.1,403.3L368.2,402.5L368.9,400.9M367.4,398.9L368.2,402.5M370.5,398.4L370.5,394.2M373.5,394.7L373.5,398.4M365.9,396.4L366.6,393.8L369.7,393.9M360.1,396.4L362.8,396.8M374.9,395.1L379.0,394.6M361.7,399.3L362.8,399.3M364.7,391.6L366.3,391.2M363.2,387.4L364.3,389.4L366.4,389.4M379.6,379.4L381.2,383.3M383.1,387.6L385.8,388.9L387.3,388.9L388.8,387.6L391.1,387.1L393.8,387.1L394.9,387.6L397.5,387.1M387.3,388.9L387.3,392.5L386.5,393.4L385.8,394.7L384.2,395.9L384.1,398.1M386.5,393.4L389.6,392.9L390.4,395.5L391.9,395.9L393.4,396.4L394.9,397.2M389.6,392.9L389.6,389.8L390.7,388.9L391.1,387.1M391.1,387.1L390.7,384.2L391.1,382.8L393.4,382.3L394.6,382.3L396.2,383.3M393.4,382.3L393.4,384.7L393.8,387.1M394.9,387.6L396.1,389.8L397.2,390.3L399.4,390.8M393.4,391.6L395.3,391.6L396.1,389.8M395.3,391.6L393.4,393.4L393.4,396.4M395.3,391.6L396.9,392.9L398.0,393.8M396.9,392.9L394.9,395.9L394.9,397.2M390.4,395.5L388.8,396.4L387.8,397.8M384.6,386.1L386.1,384.7L387.7,383.3L388.1,380.2M387.7,383.3L388.4,384.7L390.7,384.2M385.8,394.7L387.3,395.9L388.8,396.4M394.6,382.3L396.5,379.7L398.0,378.7L399.5,379.2L401.1,378.7L402.2,377.1L401.1,375.4L399.1,376.0L397.8,375.2M398.0,378.7L397.6,380.7L397.6,382.5M399.5,379.2L400.7,380.7L401.3,382.3M401.1,378.7L402.6,379.2L404.1,378.1L406.4,379.2M402.2,377.1L403.7,377.1L405.3,377.6L406.8,377.1M401.1,375.4L400.3,373.2L399.5,371.4L401.8,370.8L402.6,368.0M395.7,375.4L399.1,376.0M391.7,378.5L393.4,380.2L394.6,382.3M389.6,389.8L392.6,390.3L393.4,391.6L392.6,392.9L389.6,392.9M382.9,395.5L384.2,395.9M380.8,389.4L381.9,392.5M308.1,370.1L309.4,371.4L309.9,371.4L310.9,372.0L312.5,372.6L312.0,374.2L310.9,375.6L311.6,376.1L311.4,377.0L311.6,377.9L311.9,378.4M308.8,369.7L310.0,369.7L310.8,370.2L310.8,370.4L310.9,371.3L310.9,372.0M310.8,370.2L310.8,369.2L311.6,368.7L311.7,367.3M312.8,365.2L313.8,365.4M317.1,366.6L317.4,368.3L317.7,370.2L315.5,371.0L316.8,372.8L316.1,374.3L314.2,374.3L313.5,374.3L312.0,374.2M311.6,376.1L312.7,375.6L313.1,376.2L314.2,375.1L313.5,374.3M314.2,375.1L315.5,374.9L316.7,375.4L316.6,376.4M316.8,372.8L317.7,372.6L319.2,373.0L319.3,373.7L318.6,375.0L316.7,375.4M317.7,370.2L319.1,370.9L320.6,372.0L319.2,373.0M320.6,372.0L321.5,372.3L323.5,372.5M319.3,373.7L320.6,374.0L321.9,373.2L323.2,373.3M316.6,376.5L317.9,376.5L318.6,375.0L320.6,376.1M318.3,376.9L318.4,378.1L319.7,379.3M305.1,374.9L307.0,374.9L307.7,373.5L305.4,373.2M307.0,374.9L307.3,377.1L305.4,377.1M307.3,377.1L309.3,377.1L310.0,375.4L308.9,374.3L307.7,373.5L309.6,372.6M309.3,377.1L309.6,378.7M310.0,375.4L311.6,374.3M310.0,378.1L311.6,377.9M306.2,379.2L307.3,377.1M307.7,373.5L308.1,371.4M303.1,373.4L305.1,374.9M306.2,371.9L307.0,374.9M311.9,369.6L313.5,369.6L313.8,367.1M313.5,369.6L313.1,372.0L312.5,372.6M313.1,372.0L315.4,371.2M313.8,367.1L315.0,369.0L316.1,368.3L317.3,367.7M315.0,369.0L315.4,371.2M313.5,374.2L313.8,372.6M314.6,367.1L316.5,365.9M315.4,369.6L317.5,369.6M318.8,368.3L320.7,369.0L322.3,367.1M317.7,370.2L319.2,369.6L320.7,369.0L321.1,370.8L320.6,372.0M320.7,369.0L323.0,369.6L324.3,369.6M322.3,367.1L324.5,366.6M319.6,366.0L319.2,369.6M322.3,371.4L323.0,369.6M312.7,376.0L313.1,377.6M314.2,375.1L314.2,377.1L313.1,377.6L313.8,377.8M314.2,377.1L315.7,377.1M313.8,377.8L315.7,377.8M314.2,379.2L315.8,378.7L316.6,378.7M315.0,379.7L316.1,380.2L316.9,380.7L317.1,381.5M316.1,380.2L317.7,380.2M316.9,380.7L318.4,381.1L318.8,381.8L318.1,382.2M318.4,381.1L319.2,381.9M318.4,382.3L318.9,382.8M311.2,375.1L312.3,374.5L313.5,374.9L313.8,375.4M312.3,374.5L312.3,375.6M314.2,374.3L316.1,374.9L316.9,373.7L317.7,372.6M316.9,373.7L318.1,374.9L318.6,375.0M316.1,374.9L317.3,375.3M312.8,364.4L314.2,363.8M310.0,368.3L311.6,368.7M309.3,369.0L310.8,369.2M309.3,370.4L310.8,370.4M319.2,374.3L320.7,375.6L322.3,374.3L321.9,373.2M320.7,375.6L320.6,376.1M316.9,371.4L318.8,372.0L319.2,373.0M316.9,371.4L317.7,370.2M310.4,359.6L312.3,358.7L313.1,360.2M310.0,357.2L312.3,356.4L314.3,359.0M312.3,356.4L313.1,354.0L310.0,354.8M313.1,354.0L315.5,353.2M315.4,348.8L316.9,350.6M316.5,344.9L318.8,344.9M320.0,340.3L320.1,342.9M322.3,339.2L324.2,342.5M314.8,359.5L315.8,357.2L315.5,355.6L315.5,353.2L316.9,350.6L317.7,347.4L318.8,344.9L320.1,342.9L321.9,341.8M315.8,357.2L319.6,357.2M315.5,355.6L319.4,355.6M316.9,350.6L322.5,350.6M317.7,347.4L323.2,348.4M315.8,360.9L317.3,360.2L319.1,360.9M317.3,360.2L317.3,363.1M316.1,363.1L318.4,363.1M319.2,353.2L316.1,353.2M303.9,363.8L302.0,363.8M303.5,365.2L304.7,364.0M303.9,367.1L306.4,367.7M303.9,368.3L307.5,368.1M303.9,367.1L303.9,369.7M304.3,369.7L307.2,370.1M302.8,370.2L303.5,371.0M305.3,365.6L303.9,366.4M299.9,364.8L300.6,365.1L301.4,366.3L300.5,366.3M299.3,367.3L301.5,367.3M298.9,368.3L301.4,368.3M299.5,380.3L299.9,380.2L301.2,380.3L301.5,380.7L300.9,381.3L300.8,382.6L300.5,382.7L300.8,384.0L300.5,385.0M300.8,378.7L301.2,380.3M302.4,378.7L302.8,379.4L304.7,379.7L304.7,378.8M302.8,379.4L301.5,380.7M304.7,379.7L306.7,379.5M304.7,379.7L304.8,381.3L306.6,381.8M304.8,381.3L302.4,381.8L300.8,382.6M302.4,381.8L303.1,383.3L305.1,383.7L306.2,383.5M303.1,383.3L300.8,384.0M305.1,383.7L304.7,385.4M302.4,384.2L302.8,385.5M302.4,384.2L305.1,383.7M306.4,379.5L306.6,381.8M299.3,382.3L300.8,382.6M299.3,384.2L300.6,384.0M382.8,410.8L383.5,411.3L384.3,410.9M386.7,404.6L385.0,404.7L384.5,405.2L384.9,406.7M386.3,402.1L386.3,403.0L387.0,403.8L386.7,404.6L388.4,404.5L388.4,406.1L387.3,406.7L387.1,407.2L386.1,407.7M386.7,401.3L387.8,402.9L388.4,404.1L388.4,404.5M381.9,402.5L383.5,401.9M382.1,405.7L383.5,404.5L385.0,404.7M382.7,403.7L384.2,403.3L386.3,403.0M381.7,407.9L382.3,408.8M383.5,412.3L385.4,412.3M383.8,413.6L385.4,413.8M386.5,399.3L388.1,398.9M386.5,400.5L387.1,400.9M388.1,402.9L389.0,403.3M388.8,405.7L389.8,405.3M387.7,407.2L389.6,406.7" fill="none" stroke="#3d4a60" stroke-width="0.5" stroke-linejoin="round"/><circle cx="422.4" cy="409.6" r="2.3" fill="#5f8cc0" stroke="#3d4a60" stroke-width="0.5"/><circle cx="433.1" cy="406.5" r="2.3" fill="#5f8cc0" stroke="#3d4a60" stroke-width="0.5"/><circle cx="446.0" cy="415.2" r="2.3" fill="#5f8cc0" stroke="#3d4a60" stroke-width="0.5"/><circle cx="465.2" cy="428.5" r="2.3" fill="#5f8cc0" stroke="#3d4a60" stroke-width="0.5"/><circle cx="523.9" cy="400.9" r="2.3" fill="#5f8cc0" stroke="#3d4a60" stroke-width="0.5"/></svg><div class="attr">© 2025 Mapbox © OpenStreetMap</div></div>
</body></html>
